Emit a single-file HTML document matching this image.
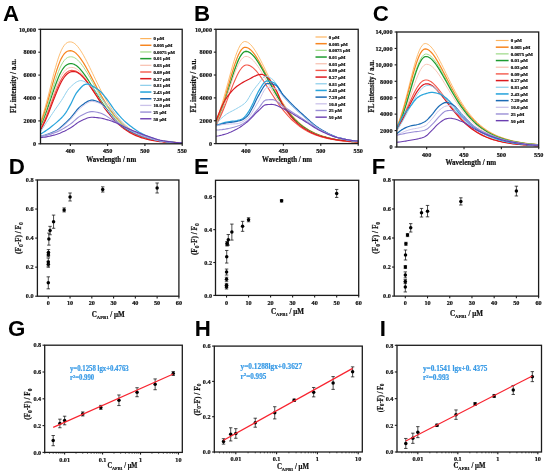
<!DOCTYPE html>
<html><head><meta charset="utf-8"><style>html,body{margin:0;padding:0;background:#fff;width:550px;height:475px;overflow:hidden}svg{display:block;will-change:transform}</style></head>
<body><svg width="550" height="475" viewBox="0 0 550 475"><text transform="translate(3 21.2) scale(1 1)" x="0" y="0" font-size="22.3" font-weight="bold" font-family='"Liberation Sans", sans-serif' fill="#000" stroke="none">A</text>
<text transform="translate(194 20.8) scale(1 1)" x="0" y="0" font-size="22.3" font-weight="bold" font-family='"Liberation Sans", sans-serif' fill="#000" stroke="none">B</text>
<text transform="translate(372.8 21.2) scale(1 1)" x="0" y="0" font-size="22.3" font-weight="bold" font-family='"Liberation Sans", sans-serif' fill="#000" stroke="none">C</text>
<text transform="translate(8.8 174.2) scale(1 1)" x="0" y="0" font-size="22.3" font-weight="bold" font-family='"Liberation Sans", sans-serif' fill="#000" stroke="none">D</text>
<text transform="translate(194 174.2) scale(1 1)" x="0" y="0" font-size="22.3" font-weight="bold" font-family='"Liberation Sans", sans-serif' fill="#000" stroke="none">E</text>
<text transform="translate(371.8 174) scale(1 1)" x="0" y="0" font-size="22.3" font-weight="bold" font-family='"Liberation Sans", sans-serif' fill="#000" stroke="none">F</text>
<text transform="translate(8 336) scale(1 1)" x="0" y="0" font-size="22.3" font-weight="bold" font-family='"Liberation Sans", sans-serif' fill="#000" stroke="none">G</text>
<text transform="translate(194.8 336) scale(1 1)" x="0" y="0" font-size="22.3" font-weight="bold" font-family='"Liberation Sans", sans-serif' fill="#000" stroke="none">H</text>
<text transform="translate(379.8 335.6) scale(1 1)" x="0" y="0" font-size="22.3" font-weight="bold" font-family='"Liberation Sans", sans-serif' fill="#000" stroke="none">I</text>
<clipPath id="cA"><rect x="40.5" y="29.3" width="141.7" height="114.5"/></clipPath>
<g clip-path="url(#cA)" fill="none">
<polyline points="40.5,122.06 41.99,117.8 43.48,113.09 44.97,107.99 46.47,102.54 47.96,96.83 49.45,90.93 50.94,84.97 52.43,79.04 53.92,73.26 55.42,67.75 56.91,62.61 58.4,57.94 59.89,53.81 61.38,50.28 62.87,47.39 64.37,45.15 65.86,43.54 67.35,42.52 68.84,42.01 70.33,41.89 71.82,42.1 73.31,42.71 74.81,43.7 76.3,45.03 77.79,46.68 79.28,48.61 80.77,50.8 82.26,53.21 83.76,55.8 85.25,58.55 86.74,61.42 88.23,64.4 89.72,67.44 91.21,70.53 92.71,73.64 94.2,76.76 95.69,79.86 97.18,82.93 98.67,85.95 100.16,88.91 101.65,91.8 103.15,94.61 104.64,97.34 106.13,99.97 107.62,102.5 109.11,104.94 110.6,107.28 112.1,109.51 113.59,111.63 115.08,113.66 116.57,115.58 118.06,117.41 119.55,119.13 121.05,120.76 122.54,122.3 124.03,123.75 125.52,125.11 127.01,126.4 128.5,127.6 129.99,128.73 131.49,129.78 132.98,130.77 134.47,131.69 135.96,132.56 137.45,133.36 138.94,134.11 140.44,134.81 141.93,135.46 143.42,136.07 144.91,136.63 146.4,137.16 147.89,137.64 149.39,138.1 150.88,138.52 152.37,138.91 153.86,139.27 155.35,139.6 156.84,139.91 158.33,140.2 159.83,140.47 161.32,140.72 162.81,140.94 164.3,141.16 165.79,141.35 167.28,141.53 168.78,141.7 170.27,141.86 171.76,142 173.25,142.13 174.74,142.26 176.23,142.37 177.73,142.48 179.22,142.57 180.71,142.66 182.2,142.75" stroke="#fdb35c" stroke-width="0.85" stroke-linejoin="round"/>
<polyline points="40.5,123.94 41.99,120.05 43.48,115.75 44.97,111.09 46.47,106.11 47.96,100.89 49.45,95.51 50.94,90.06 52.43,84.64 53.92,79.37 55.42,74.33 56.91,69.64 58.4,65.37 59.89,61.6 61.38,58.37 62.87,55.73 64.37,53.68 65.86,52.21 67.35,51.28 68.84,50.82 70.33,50.71 71.82,50.9 73.31,51.46 74.81,52.36 76.3,53.58 77.79,55.08 79.28,56.85 80.77,58.85 82.26,61.04 83.76,63.41 85.25,65.92 86.74,68.55 88.23,71.27 89.72,74.05 91.21,76.87 92.71,79.71 94.2,82.56 95.69,85.39 97.18,88.19 98.67,90.95 100.16,93.66 101.65,96.3 103.15,98.87 104.64,101.36 106.13,103.76 107.62,106.08 109.11,108.3 110.6,110.44 112.1,112.47 113.59,114.42 115.08,116.27 116.57,118.02 118.06,119.69 119.55,121.27 121.05,122.76 122.54,124.16 124.03,125.49 125.52,126.73 127.01,127.9 128.5,129 129.99,130.03 131.49,130.99 132.98,131.9 134.47,132.74 135.96,133.53 137.45,134.26 138.94,134.95 140.44,135.59 141.93,136.18 143.42,136.74 144.91,137.25 146.4,137.73 147.89,138.18 149.39,138.59 150.88,138.97 152.37,139.33 153.86,139.66 155.35,139.97 156.84,140.25 158.33,140.51 159.83,140.76 161.32,140.98 162.81,141.19 164.3,141.38 165.79,141.56 167.28,141.73 168.78,141.88 170.27,142.03 171.76,142.16 173.25,142.28 174.74,142.39 176.23,142.49 177.73,142.59 179.22,142.68 180.71,142.76 182.2,142.84" stroke="#f7851f" stroke-width="1.2" stroke-linejoin="round"/>
<polyline points="40.5,125.57 41.99,122.04 43.48,118.15 44.97,113.93 46.47,109.41 47.96,104.66 49.45,99.75 50.94,94.76 52.43,89.78 53.92,84.9 55.42,80.22 56.91,75.81 58.4,71.76 59.89,68.14 61.38,65 62.87,62.38 64.37,60.28 65.86,58.71 67.35,57.65 68.84,57.04 70.33,56.8 71.82,56.82 73.31,57.18 74.81,57.86 76.3,58.85 77.79,60.13 79.28,61.66 80.77,63.43 82.26,65.39 83.76,67.53 85.25,69.81 86.74,72.22 88.23,74.72 89.72,77.29 91.21,79.91 92.71,82.56 94.2,85.22 95.69,87.88 97.18,90.51 98.67,93.11 100.16,95.67 101.65,98.17 103.15,100.6 104.64,102.97 106.13,105.26 107.62,107.46 109.11,109.59 110.6,111.62 112.1,113.57 113.59,115.44 115.08,117.21 116.57,118.89 118.06,120.49 119.55,122.01 121.05,123.44 122.54,124.79 124.03,126.07 125.52,127.27 127.01,128.4 128.5,129.46 129.99,130.45 131.49,131.39 132.98,132.26 134.47,133.07 135.96,133.84 137.45,134.55 138.94,135.21 140.44,135.83 141.93,136.41 143.42,136.94 144.91,137.44 146.4,137.91 147.89,138.34 149.39,138.74 150.88,139.11 152.37,139.46 153.86,139.78 155.35,140.08 156.84,140.35 158.33,140.61 159.83,140.84 161.32,141.06 162.81,141.27 164.3,141.45 165.79,141.63 167.28,141.79 168.78,141.94 170.27,142.08 171.76,142.2 173.25,142.32 174.74,142.43 176.23,142.53 177.73,142.63 179.22,142.71 180.71,142.79 182.2,142.87" stroke="#a3dc8f" stroke-width="1.0" stroke-linejoin="round"/>
<polyline points="40.5,127.01 41.99,123.76 43.48,120.18 44.97,116.28 46.47,112.12 47.96,107.75 49.45,103.23 50.94,98.63 52.43,94.05 53.92,89.55 55.42,85.23 56.91,81.18 58.4,77.45 59.89,74.12 61.38,71.22 62.87,68.8 64.37,66.87 65.86,65.43 67.35,64.45 68.84,63.89 70.33,63.67 71.82,63.69 73.31,64.02 74.81,64.65 76.3,65.56 77.79,66.74 79.28,68.15 80.77,69.77 82.26,71.58 83.76,73.55 85.25,75.65 86.74,77.87 88.23,80.17 89.72,82.54 91.21,84.95 92.71,87.39 94.2,89.85 95.69,92.29 97.18,94.72 98.67,97.11 100.16,99.47 101.65,101.77 103.15,104.01 104.64,106.19 106.13,108.3 107.62,110.33 109.11,112.29 110.6,114.16 112.1,115.96 113.59,117.67 115.08,119.31 116.57,120.86 118.06,122.33 119.55,123.73 121.05,125.05 122.54,126.29 124.03,127.47 125.52,128.58 127.01,129.62 128.5,130.59 129.99,131.51 131.49,132.37 132.98,133.17 134.47,133.92 135.96,134.62 137.45,135.28 138.94,135.89 140.44,136.46 141.93,136.99 143.42,137.49 144.91,137.95 146.4,138.37 147.89,138.77 149.39,139.14 150.88,139.48 152.37,139.8 153.86,140.1 155.35,140.37 156.84,140.62 158.33,140.86 159.83,141.08 161.32,141.28 162.81,141.47 164.3,141.64 165.79,141.8 167.28,141.95 168.78,142.08 170.27,142.21 171.76,142.33 173.25,142.44 174.74,142.54 176.23,142.63 177.73,142.72 179.22,142.8 180.71,142.87 182.2,142.94" stroke="#1e9b30" stroke-width="1.2" stroke-linejoin="round"/>
<polyline points="40.5,128.08 41.99,125.08 43.48,121.77 44.97,118.17 46.47,114.32 47.96,110.26 49.45,106.06 50.94,101.77 52.43,97.48 53.92,93.25 55.42,89.16 56.91,85.29 58.4,81.7 59.89,78.45 61.38,75.6 62.87,73.17 64.37,71.19 65.86,69.65 67.35,68.55 68.84,67.85 70.33,67.51 71.82,67.43 73.31,67.58 74.81,68.04 76.3,68.78 77.79,69.78 79.28,71.02 80.77,72.46 82.26,74.1 83.76,75.91 85.25,77.85 86.74,79.91 88.23,82.06 89.72,84.29 91.21,86.57 92.71,88.89 94.2,91.22 95.69,93.56 97.18,95.88 98.67,98.18 100.16,100.44 101.65,102.66 103.15,104.83 104.64,106.93 106.13,108.98 107.62,110.95 109.11,112.85 110.6,114.68 112.1,116.43 113.59,118.1 115.08,119.69 116.57,121.21 118.06,122.65 119.55,124.02 121.05,125.31 122.54,126.54 124.03,127.69 125.52,128.77 127.01,129.8 128.5,130.76 129.99,131.66 131.49,132.5 132.98,133.29 134.47,134.03 135.96,134.73 137.45,135.37 138.94,135.98 140.44,136.54 141.93,137.06 143.42,137.55 144.91,138.01 146.4,138.43 147.89,138.82 149.39,139.19 150.88,139.53 152.37,139.84 153.86,140.13 155.35,140.4 156.84,140.65 158.33,140.89 159.83,141.1 161.32,141.3 162.81,141.49 164.3,141.66 165.79,141.82 167.28,141.97 168.78,142.1 170.27,142.23 171.76,142.34 173.25,142.45 174.74,142.55 176.23,142.64 177.73,142.73 179.22,142.81 180.71,142.88 182.2,142.95" stroke="#f8c4b4" stroke-width="1.0" stroke-linejoin="round"/>
<polyline points="40.5,128.95 41.99,126.15 43.48,123.06 44.97,119.71 46.47,116.11 47.96,112.32 49.45,108.38 50.94,104.35 52.43,100.29 53.92,96.28 55.42,92.38 56.91,88.67 58.4,85.19 59.89,82.02 61.38,79.2 62.87,76.76 64.37,74.72 65.86,73.1 67.35,71.89 68.84,71.07 70.33,70.6 71.82,70.42 73.31,70.44 74.81,70.74 76.3,71.32 77.79,72.15 79.28,73.23 80.77,74.52 82.26,76.01 83.76,77.67 85.25,79.47 86.74,81.4 88.23,83.42 89.72,85.53 91.21,87.7 92.71,89.91 94.2,92.15 95.69,94.39 97.18,96.63 98.67,98.86 100.16,101.05 101.65,103.2 103.15,105.31 104.64,107.37 106.13,109.36 107.62,111.29 109.11,113.15 110.6,114.94 112.1,116.66 113.59,118.31 115.08,119.88 116.57,121.37 118.06,122.79 119.55,124.14 121.05,125.42 122.54,126.63 124.03,127.77 125.52,128.85 127.01,129.86 128.5,130.81 129.99,131.71 131.49,132.54 132.98,133.33 134.47,134.07 135.96,134.75 137.45,135.4 138.94,136 140.44,136.56 141.93,137.08 143.42,137.57 144.91,138.02 146.4,138.44 147.89,138.83 149.39,139.19 150.88,139.53 152.37,139.85 153.86,140.14 155.35,140.41 156.84,140.66 158.33,140.89 159.83,141.11 161.32,141.31 162.81,141.49 164.3,141.66 165.79,141.82 167.28,141.97 168.78,142.1 170.27,142.23 171.76,142.35 173.25,142.45 174.74,142.55 176.23,142.65 177.73,142.73 179.22,142.81 180.71,142.88 182.2,142.95" stroke="#f4584a" stroke-width="1.1" stroke-linejoin="round"/>
<polyline points="40.5,130.04 41.99,127.44 43.48,124.56 44.97,121.41 46.47,118.03 47.96,114.44 49.45,110.69 50.94,106.83 52.43,102.91 53.92,99.01 55.42,95.18 56.91,91.48 58.4,87.99 59.89,84.75 61.38,81.82 62.87,79.24 64.37,77.02 65.86,75.2 67.35,73.77 68.84,72.73 70.33,72.04 71.82,71.67 73.31,71.55 74.81,71.64 76.3,72.03 77.79,72.7 79.28,73.65 80.77,74.84 82.26,76.24 83.76,77.84 85.25,79.61 86.74,81.53 88.23,83.56 89.72,85.69 91.21,87.89 92.71,90.14 94.2,92.43 95.69,94.73 97.18,97.03 98.67,99.31 100.16,101.56 101.65,103.78 103.15,105.95 104.64,108.06 106.13,110.1 107.62,112.08 109.11,113.99 110.6,115.82 112.1,117.57 113.59,119.24 115.08,120.83 116.57,122.34 118.06,123.78 119.55,125.13 121.05,126.42 122.54,127.62 124.03,128.76 125.52,129.83 127.01,130.83 128.5,131.77 129.99,132.64 131.49,133.46 132.98,134.23 134.47,134.94 135.96,135.61 137.45,136.22 138.94,136.8 140.44,137.33 141.93,137.83 143.42,138.28 144.91,138.71 146.4,139.1 147.89,139.47 149.39,139.81 150.88,140.12 152.37,140.41 153.86,140.67 155.35,140.92 156.84,141.14 158.33,141.35 159.83,141.55 161.32,141.72 162.81,141.89 164.3,142.04 165.79,142.18 167.28,142.31 168.78,142.42 170.27,142.53 171.76,142.63 173.25,142.72 174.74,142.81 176.23,142.89 177.73,142.96 179.22,143.03 180.71,143.09 182.2,143.14" stroke="#dc1a1f" stroke-width="1.2" stroke-linejoin="round"/>
<polyline points="40.5,131.66 41.99,129.35 43.48,127.05 44.97,124.76 46.47,122.49 47.96,120.23 49.45,117.99 50.94,115.76 52.43,113.54 53.92,111.33 55.42,109.14 56.91,106.99 58.4,104.86 59.89,102.73 61.38,100.56 62.87,98.24 64.37,95.69 65.86,93.1 67.35,90.68 68.84,88.65 70.33,87.14 71.82,85.75 73.31,84.42 74.81,83.2 76.3,82.15 77.79,81.33 79.28,80.79 80.77,80.6 82.26,80.77 83.76,81.27 85.25,82.02 86.74,82.97 88.23,84.07 89.72,85.26 91.21,86.47 92.71,87.73 94.2,89.34 95.69,91.21 97.18,93.18 98.67,95.1 100.16,96.88 101.65,98.64 103.15,100.4 104.64,102.15 106.13,103.9 107.62,105.64 109.11,107.38 110.6,109.11 112.1,110.82 113.59,112.53 115.08,114.23 116.57,115.98 118.06,117.79 119.55,119.61 121.05,121.4 122.54,123.1 124.03,124.66 125.52,126.03 127.01,127.18 128.5,128.27 129.99,129.3 131.49,130.29 132.98,131.23 134.47,132.12 135.96,132.96 137.45,133.75 138.94,134.49 140.44,135.17 141.93,135.81 143.42,136.4 144.91,136.93 146.4,137.43 147.89,137.91 149.39,138.38 150.88,138.82 152.37,139.24 153.86,139.64 155.35,140.01 156.84,140.35 158.33,140.67 159.83,140.95 161.32,141.2 162.81,141.42 164.3,141.6 165.79,141.78 167.28,141.95 168.78,142.12 170.27,142.28 171.76,142.43 173.25,142.57 174.74,142.69 176.23,142.8 177.73,142.88 179.22,142.94 180.71,142.98 182.2,143" stroke="#92d0ec" stroke-width="1.0" stroke-linejoin="round"/>
<polyline points="40.5,134.07 41.99,133.22 43.48,132.31 44.97,131.35 46.47,130.34 47.96,129.28 49.45,128.17 50.94,127.03 52.43,125.85 53.92,124.63 55.42,123.39 56.91,122.12 58.4,120.81 59.89,119.43 61.38,117.96 62.87,116.36 64.37,114.62 65.86,112.66 67.35,110.25 68.84,107.61 70.33,104.92 71.82,101.91 73.31,98.73 74.81,95.71 76.3,93.15 77.79,91.25 79.28,89.47 80.77,87.78 82.26,86.28 83.76,85.08 85.25,84.3 86.74,84.03 88.23,84.18 89.72,84.58 91.21,85.2 92.71,85.99 94.2,86.91 95.69,87.93 97.18,89.01 98.67,90.12 100.16,91.28 101.65,92.76 103.15,94.48 104.64,96.34 106.13,98.24 107.62,100.16 109.11,102.26 110.6,104.45 112.1,106.65 113.59,108.76 115.08,110.69 116.57,112.49 118.06,114.24 119.55,115.95 121.05,117.58 122.54,119.14 124.03,120.61 125.52,121.98 127.01,123.24 128.5,124.46 129.99,125.66 131.49,126.82 132.98,127.94 134.47,129.02 135.96,130.06 137.45,131.05 138.94,131.98 140.44,132.85 141.93,133.67 143.42,134.42 144.91,135.1 146.4,135.74 147.89,136.36 149.39,136.96 150.88,137.53 152.37,138.09 153.86,138.61 155.35,139.1 156.84,139.55 158.33,139.96 159.83,140.33 161.32,140.66 162.81,140.93 164.3,141.16 165.79,141.39 167.28,141.6 168.78,141.81 170.27,142.01 171.76,142.19 173.25,142.36 174.74,142.51 176.23,142.64 177.73,142.74 179.22,142.82 180.71,142.87 182.2,142.88" stroke="#2aa5dc" stroke-width="1.25" stroke-linejoin="round"/>
<polyline points="40.5,135.78 41.99,135.65 43.48,135.4 44.97,135.06 46.47,134.64 47.96,134.15 49.45,133.6 50.94,132.99 52.43,132.35 53.92,131.68 55.42,130.99 56.91,130.16 58.4,129.17 59.89,128.03 61.38,126.78 62.87,125.44 64.37,124.03 65.86,122.57 67.35,121.09 68.84,119.61 70.33,118.12 71.82,116.43 73.31,114.58 74.81,112.66 76.3,110.76 77.79,108.98 79.28,107.4 80.77,106.13 82.26,105.02 83.76,103.91 85.25,102.85 86.74,101.89 88.23,101.1 89.72,100.52 91.21,100.21 92.71,100.21 94.2,100.46 95.69,100.89 97.18,101.45 98.67,102.09 100.16,102.83 101.65,103.96 103.15,105.38 104.64,106.97 106.13,108.62 107.62,110.32 109.11,112.3 110.6,114.43 112.1,116.55 113.59,118.51 115.08,120.17 116.57,121.61 118.06,122.96 119.55,124.23 121.05,125.42 122.54,126.52 124.03,127.55 125.52,128.48 127.01,129.33 128.5,130.15 129.99,130.92 131.49,131.66 132.98,132.37 134.47,133.05 135.96,133.69 137.45,134.3 138.94,134.88 140.44,135.44 141.93,135.96 143.42,136.46 144.91,136.93 146.4,137.39 147.89,137.83 149.39,138.27 150.88,138.69 152.37,139.1 153.86,139.49 155.35,139.86 156.84,140.2 158.33,140.52 159.83,140.81 161.32,141.07 162.81,141.3 164.3,141.49 165.79,141.68 167.28,141.86 168.78,142.03 170.27,142.2 171.76,142.36 173.25,142.51 174.74,142.64 176.23,142.75 177.73,142.85 179.22,142.92 180.71,142.97 182.2,143" stroke="#1c6bb5" stroke-width="1.2" stroke-linejoin="round"/>
<polyline points="40.5,136.01 41.99,135.88 43.48,135.65 44.97,135.34 46.47,134.95 47.96,134.49 49.45,133.98 50.94,133.43 52.43,132.83 53.92,132.22 55.42,131.58 56.91,130.82 58.4,129.92 59.89,128.9 61.38,127.77 62.87,126.55 64.37,125.27 65.86,123.93 67.35,122.55 68.84,121.16 70.33,119.75 71.82,118.11 73.31,116.28 74.81,114.37 76.3,112.46 77.79,110.65 79.28,109.04 80.77,107.73 82.26,106.58 83.76,105.41 85.25,104.28 86.74,103.27 88.23,102.42 89.72,101.8 91.21,101.47 92.71,101.46 94.2,101.65 95.69,101.98 97.18,102.42 98.67,102.94 100.16,103.57 101.65,104.6 103.15,105.93 104.64,107.44 106.13,108.99 107.62,110.58 109.11,112.43 110.6,114.41 112.1,116.4 113.59,118.25 115.08,119.83 116.57,121.2 118.06,122.5 119.55,123.73 121.05,124.88 122.54,125.96 124.03,126.97 125.52,127.9 127.01,128.77 128.5,129.6 129.99,130.4 131.49,131.16 132.98,131.9 134.47,132.61 135.96,133.28 137.45,133.93 138.94,134.54 140.44,135.13 141.93,135.68 143.42,136.21 144.91,136.7 146.4,137.18 147.89,137.65 149.39,138.11 150.88,138.56 152.37,138.99 153.86,139.4 155.35,139.79 156.84,140.15 158.33,140.49 159.83,140.79 161.32,141.06 162.81,141.29 164.3,141.49 165.79,141.68 167.28,141.87 168.78,142.05 170.27,142.22 171.76,142.38 173.25,142.52 174.74,142.66 176.23,142.77 177.73,142.86 179.22,142.93 180.71,142.98 182.2,143" stroke="#cbc3ea" stroke-width="1.0" stroke-linejoin="round"/>
<polyline points="40.5,136.7 41.99,136.46 43.48,136.17 44.97,135.84 46.47,135.46 47.96,135.04 49.45,134.59 50.94,134.11 52.43,133.6 53.92,133.07 55.42,132.53 56.91,131.92 58.4,131.24 59.89,130.5 61.38,129.71 62.87,128.86 64.37,127.98 65.86,127.06 67.35,126.12 68.84,125.15 70.33,124.15 71.82,123 73.31,121.71 74.81,120.35 76.3,119.01 77.79,117.75 79.28,116.64 80.77,115.75 82.26,114.98 83.76,114.21 85.25,113.47 86.74,112.81 88.23,112.26 89.72,111.86 91.21,111.65 92.71,111.65 94.2,111.78 95.69,112.01 97.18,112.3 98.67,112.63 100.16,113.01 101.65,113.54 103.15,114.21 104.64,115.01 106.13,115.9 107.62,116.85 109.11,117.84 110.6,118.84 112.1,119.82 113.59,120.76 115.08,121.63 116.57,122.46 118.06,123.31 119.55,124.16 121.05,125 122.54,125.83 124.03,126.63 125.52,127.4 127.01,128.13 128.5,128.85 129.99,129.56 131.49,130.26 132.98,130.95 134.47,131.62 135.96,132.28 137.45,132.92 138.94,133.54 140.44,134.14 141.93,134.71 143.42,135.26 144.91,135.78 146.4,136.3 147.89,136.81 149.39,137.31 150.88,137.81 152.37,138.29 153.86,138.76 155.35,139.2 156.84,139.62 158.33,140.01 159.83,140.36 161.32,140.67 162.81,140.94 164.3,141.16 165.79,141.38 167.28,141.59 168.78,141.79 170.27,141.98 171.76,142.17 173.25,142.33 174.74,142.48 176.23,142.61 177.73,142.72 179.22,142.8 180.71,142.86 182.2,142.88" stroke="#9a8fd6" stroke-width="1.1" stroke-linejoin="round"/>
<polyline points="40.5,137.62 41.99,137.49 43.48,137.32 44.97,137.11 46.47,136.85 47.96,136.56 49.45,136.24 50.94,135.89 52.43,135.53 53.92,135.14 55.42,134.75 56.91,134.29 58.4,133.77 59.89,133.19 61.38,132.55 62.87,131.87 64.37,131.15 65.86,130.39 67.35,129.62 68.84,128.82 70.33,128.01 71.82,127.05 73.31,125.97 74.81,124.83 76.3,123.7 77.79,122.62 79.28,121.67 80.77,120.9 82.26,120.22 83.76,119.54 85.25,118.89 86.74,118.3 88.23,117.81 89.72,117.45 91.21,117.26 92.71,117.25 94.2,117.33 95.69,117.47 97.18,117.65 98.67,117.84 100.16,118.05 101.65,118.32 103.15,118.63 104.64,119 106.13,119.41 107.62,119.85 109.11,120.33 110.6,120.83 112.1,121.35 113.59,121.88 115.08,122.42 116.57,123.01 118.06,123.68 119.55,124.42 121.05,125.18 122.54,125.96 124.03,126.72 125.52,127.43 127.01,128.1 128.5,128.74 129.99,129.39 131.49,130.02 132.98,130.64 134.47,131.26 135.96,131.86 137.45,132.46 138.94,133.04 140.44,133.6 141.93,134.16 143.42,134.69 144.91,135.21 146.4,135.73 147.89,136.26 149.39,136.79 150.88,137.31 152.37,137.83 153.86,138.33 155.35,138.82 156.84,139.27 158.33,139.69 159.83,140.07 161.32,140.41 162.81,140.7 164.3,140.94 165.79,141.17 167.28,141.39 168.78,141.61 170.27,141.81 171.76,142.01 173.25,142.19 174.74,142.35 176.23,142.48 177.73,142.6 179.22,142.69 180.71,142.74 182.2,142.77" stroke="#6b3fb0" stroke-width="1.1" stroke-linejoin="round"/>
</g>
<rect x="40.5" y="29.3" width="141.7" height="114.5" fill="none" stroke="#1b1b1b" stroke-width="1.3"/>
<line x1="38.3" y1="143.8" x2="40.5" y2="143.8" stroke="#1b1b1b" stroke-width="1.1"/>
<text x="36" y="146.03" font-size="6.63" text-anchor="end" font-weight="bold" font-family='"Liberation Serif", serif' fill="#111" stroke="#111" stroke-width="0.22" textLength="3.1" lengthAdjust="spacingAndGlyphs">0</text>
<line x1="38.3" y1="120.9" x2="40.5" y2="120.9" stroke="#1b1b1b" stroke-width="1.1"/>
<text x="36" y="123.13" font-size="6.63" text-anchor="end" font-weight="bold" font-family='"Liberation Serif", serif' fill="#111" stroke="#111" stroke-width="0.22" textLength="12.4" lengthAdjust="spacingAndGlyphs">2000</text>
<line x1="38.3" y1="98" x2="40.5" y2="98" stroke="#1b1b1b" stroke-width="1.1"/>
<text x="36" y="100.23" font-size="6.63" text-anchor="end" font-weight="bold" font-family='"Liberation Serif", serif' fill="#111" stroke="#111" stroke-width="0.22" textLength="12.4" lengthAdjust="spacingAndGlyphs">4000</text>
<line x1="38.3" y1="75.1" x2="40.5" y2="75.1" stroke="#1b1b1b" stroke-width="1.1"/>
<text x="36" y="77.33" font-size="6.63" text-anchor="end" font-weight="bold" font-family='"Liberation Serif", serif' fill="#111" stroke="#111" stroke-width="0.22" textLength="12.4" lengthAdjust="spacingAndGlyphs">6000</text>
<line x1="38.3" y1="52.2" x2="40.5" y2="52.2" stroke="#1b1b1b" stroke-width="1.1"/>
<text x="36" y="54.43" font-size="6.63" text-anchor="end" font-weight="bold" font-family='"Liberation Serif", serif' fill="#111" stroke="#111" stroke-width="0.22" textLength="12.4" lengthAdjust="spacingAndGlyphs">8000</text>
<line x1="38.3" y1="29.3" x2="40.5" y2="29.3" stroke="#1b1b1b" stroke-width="1.1"/>
<text x="36" y="31.53" font-size="6.63" text-anchor="end" font-weight="bold" font-family='"Liberation Serif", serif' fill="#111" stroke="#111" stroke-width="0.22" textLength="17.05" lengthAdjust="spacingAndGlyphs">10,000</text>
<line x1="70.33" y1="143.8" x2="70.33" y2="146" stroke="#1b1b1b" stroke-width="1.1"/>
<text x="70.33" y="153.43" font-size="6.63" text-anchor="middle" font-weight="bold" font-family='"Liberation Serif", serif' fill="#111" stroke="#111" stroke-width="0.22" textLength="9.3" lengthAdjust="spacingAndGlyphs">400</text>
<line x1="107.62" y1="143.8" x2="107.62" y2="146" stroke="#1b1b1b" stroke-width="1.1"/>
<text x="107.62" y="153.43" font-size="6.63" text-anchor="middle" font-weight="bold" font-family='"Liberation Serif", serif' fill="#111" stroke="#111" stroke-width="0.22" textLength="9.3" lengthAdjust="spacingAndGlyphs">450</text>
<line x1="144.91" y1="143.8" x2="144.91" y2="146" stroke="#1b1b1b" stroke-width="1.1"/>
<text x="144.91" y="153.43" font-size="6.63" text-anchor="middle" font-weight="bold" font-family='"Liberation Serif", serif' fill="#111" stroke="#111" stroke-width="0.22" textLength="9.3" lengthAdjust="spacingAndGlyphs">500</text>
<line x1="182.2" y1="143.8" x2="182.2" y2="146" stroke="#1b1b1b" stroke-width="1.1"/>
<text x="182.2" y="153.43" font-size="6.63" text-anchor="middle" font-weight="bold" font-family='"Liberation Serif", serif' fill="#111" stroke="#111" stroke-width="0.22" textLength="9.3" lengthAdjust="spacingAndGlyphs">550</text>
<text x="13.8" y="88.5" font-size="7.6" text-anchor="middle" font-weight="bold" font-family='"Liberation Serif", serif' fill="#111" stroke="#111" stroke-width="0.22" textLength="54" lengthAdjust="spacingAndGlyphs" transform="rotate(-90 13.8 85.9)">FL intensity / a.u.</text>
<text x="111.2" y="161.7" font-size="7.35" text-anchor="middle" font-weight="bold" font-family='"Liberation Serif", serif' fill="#111" stroke="#111" stroke-width="0.22" textLength="50" lengthAdjust="spacingAndGlyphs">Wavelength / nm</text>
<line x1="140.2" y1="38.6" x2="151.4" y2="38.6" stroke="#fdb35c" stroke-width="1.15"/>
<text x="153.5" y="40.45" font-size="5" font-weight="bold" font-family='"Liberation Serif", serif' fill="#111" stroke="#111" stroke-width="0.22" textLength="10.74" lengthAdjust="spacingAndGlyphs">0 μM</text>
<line x1="140.2" y1="45.28" x2="151.4" y2="45.28" stroke="#f7851f" stroke-width="1.5"/>
<text x="153.5" y="47.13" font-size="5" font-weight="bold" font-family='"Liberation Serif", serif' fill="#111" stroke="#111" stroke-width="0.22" textLength="19.05" lengthAdjust="spacingAndGlyphs">0.005 μM</text>
<line x1="140.2" y1="51.96" x2="151.4" y2="51.96" stroke="#a3dc8f" stroke-width="1.3"/>
<text x="153.5" y="53.81" font-size="5" font-weight="bold" font-family='"Liberation Serif", serif' fill="#111" stroke="#111" stroke-width="0.22" textLength="21.43" lengthAdjust="spacingAndGlyphs">0.0075 μM</text>
<line x1="140.2" y1="58.64" x2="151.4" y2="58.64" stroke="#1e9b30" stroke-width="1.5"/>
<text x="153.5" y="60.49" font-size="5" font-weight="bold" font-family='"Liberation Serif", serif' fill="#111" stroke="#111" stroke-width="0.22" textLength="16.68" lengthAdjust="spacingAndGlyphs">0.01 μM</text>
<line x1="140.2" y1="65.32" x2="151.4" y2="65.32" stroke="#f8c4b4" stroke-width="1.3"/>
<text x="153.5" y="67.17" font-size="5" font-weight="bold" font-family='"Liberation Serif", serif' fill="#111" stroke="#111" stroke-width="0.22" textLength="16.68" lengthAdjust="spacingAndGlyphs">0.03 μM</text>
<line x1="140.2" y1="72" x2="151.4" y2="72" stroke="#f4584a" stroke-width="1.4"/>
<text x="153.5" y="73.85" font-size="5" font-weight="bold" font-family='"Liberation Serif", serif' fill="#111" stroke="#111" stroke-width="0.22" textLength="16.68" lengthAdjust="spacingAndGlyphs">0.09 μM</text>
<line x1="140.2" y1="78.68" x2="151.4" y2="78.68" stroke="#dc1a1f" stroke-width="1.5"/>
<text x="153.5" y="80.53" font-size="5" font-weight="bold" font-family='"Liberation Serif", serif' fill="#111" stroke="#111" stroke-width="0.22" textLength="16.68" lengthAdjust="spacingAndGlyphs">0.27 μM</text>
<line x1="140.2" y1="85.36" x2="151.4" y2="85.36" stroke="#92d0ec" stroke-width="1.3"/>
<text x="153.5" y="87.21" font-size="5" font-weight="bold" font-family='"Liberation Serif", serif' fill="#111" stroke="#111" stroke-width="0.22" textLength="16.68" lengthAdjust="spacingAndGlyphs">0.81 μM</text>
<line x1="140.2" y1="92.04" x2="151.4" y2="92.04" stroke="#2aa5dc" stroke-width="1.55"/>
<text x="153.5" y="93.89" font-size="5" font-weight="bold" font-family='"Liberation Serif", serif' fill="#111" stroke="#111" stroke-width="0.22" textLength="16.68" lengthAdjust="spacingAndGlyphs">2.43 μM</text>
<line x1="140.2" y1="98.72" x2="151.4" y2="98.72" stroke="#1c6bb5" stroke-width="1.5"/>
<text x="153.5" y="100.57" font-size="5" font-weight="bold" font-family='"Liberation Serif", serif' fill="#111" stroke="#111" stroke-width="0.22" textLength="16.68" lengthAdjust="spacingAndGlyphs">7.29 μM</text>
<line x1="140.2" y1="105.4" x2="151.4" y2="105.4" stroke="#cbc3ea" stroke-width="1.3"/>
<text x="153.5" y="107.25" font-size="5" font-weight="bold" font-family='"Liberation Serif", serif' fill="#111" stroke="#111" stroke-width="0.22" textLength="16.68" lengthAdjust="spacingAndGlyphs">10.0 μM</text>
<line x1="140.2" y1="112.08" x2="151.4" y2="112.08" stroke="#9a8fd6" stroke-width="1.4"/>
<text x="153.5" y="113.93" font-size="5" font-weight="bold" font-family='"Liberation Serif", serif' fill="#111" stroke="#111" stroke-width="0.22" textLength="13.11" lengthAdjust="spacingAndGlyphs">25 μM</text>
<line x1="140.2" y1="118.76" x2="151.4" y2="118.76" stroke="#6b3fb0" stroke-width="1.4"/>
<text x="153.5" y="120.61" font-size="5" font-weight="bold" font-family='"Liberation Serif", serif' fill="#111" stroke="#111" stroke-width="0.22" textLength="13.11" lengthAdjust="spacingAndGlyphs">50 μM</text>
<clipPath id="cB"><rect x="216" y="29.3" width="142.2" height="114.3"/></clipPath>
<g clip-path="url(#cB)" fill="none">
<polyline points="216,120.91 217.5,117.18 218.99,113.09 220.49,108.64 221.99,103.88 223.48,98.83 224.98,93.54 226.48,88.08 227.97,82.53 229.47,76.96 230.97,71.47 232.47,66.16 233.96,61.14 235.46,56.49 236.96,52.33 238.45,48.74 239.95,45.81 241.45,43.61 242.94,42.18 244.44,41.56 245.94,41.66 247.43,42.2 248.93,43.14 250.43,44.45 251.92,46.09 253.42,48.02 254.92,50.21 256.41,52.61 257.91,55.21 259.41,57.95 260.91,60.81 262.4,63.76 263.9,66.78 265.4,69.83 266.89,72.9 268.39,75.96 269.89,79 271.38,82 272.88,84.95 274.38,87.83 275.87,90.65 277.37,93.38 278.87,96.02 280.36,98.58 281.86,101.04 283.36,103.4 284.85,105.66 286.35,107.83 287.85,109.9 289.35,111.87 290.84,113.74 292.34,115.52 293.84,117.21 295.33,118.8 296.83,120.32 298.33,121.74 299.82,123.09 301.32,124.37 302.82,125.56 304.31,126.69 305.81,127.75 307.31,128.75 308.8,129.69 310.3,130.57 311.8,131.4 313.29,132.17 314.79,132.9 316.29,133.58 317.79,134.22 319.28,134.82 320.78,135.38 322.28,135.9 323.77,136.39 325.27,136.85 326.77,137.28 328.26,137.68 329.76,138.05 331.26,138.41 332.75,138.73 334.25,139.04 335.75,139.33 337.24,139.6 338.74,139.85 340.24,140.08 341.73,140.3 343.23,140.51 344.73,140.7 346.23,140.88 347.72,141.05 349.22,141.2 350.72,141.35 352.21,141.49 353.71,141.62 355.21,141.74 356.7,141.85 358.2,141.96" stroke="#fdb35c" stroke-width="0.85" stroke-linejoin="round"/>
<polyline points="216,123.01 217.5,119.57 218.99,115.79 220.49,111.68 221.99,107.25 223.48,102.55 224.98,97.61 226.48,92.49 227.97,87.26 229.47,82 230.97,76.79 232.47,71.73 233.96,66.91 235.46,62.43 236.96,58.38 238.45,54.85 239.95,51.92 241.45,49.66 242.94,48.12 244.44,47.34 245.94,47.3 247.43,47.71 248.93,48.51 250.43,49.66 251.92,51.13 253.42,52.89 254.92,54.9 256.41,57.12 257.91,59.53 259.41,62.09 260.91,64.76 262.4,67.53 263.9,70.36 265.4,73.24 266.89,76.13 268.39,79.02 269.89,81.9 271.38,84.74 272.88,87.54 274.38,90.28 275.87,92.95 277.37,95.55 278.87,98.07 280.36,100.5 281.86,102.85 283.36,105.1 284.85,107.26 286.35,109.33 287.85,111.31 289.35,113.19 290.84,114.98 292.34,116.68 293.84,118.29 295.33,119.82 296.83,121.27 298.33,122.64 299.82,123.93 301.32,125.15 302.82,126.3 304.31,127.38 305.81,128.4 307.31,129.35 308.8,130.25 310.3,131.1 311.8,131.89 313.29,132.63 314.79,133.33 316.29,133.98 317.79,134.6 319.28,135.17 320.78,135.71 322.28,136.21 323.77,136.68 325.27,137.12 326.77,137.53 328.26,137.92 329.76,138.28 331.26,138.62 332.75,138.93 334.25,139.23 335.75,139.5 337.24,139.76 338.74,140 340.24,140.23 341.73,140.44 343.23,140.63 344.73,140.82 346.23,140.99 347.72,141.15 349.22,141.3 350.72,141.44 352.21,141.58 353.71,141.7 355.21,141.81 356.7,141.92 358.2,142.02" stroke="#f7851f" stroke-width="1.2" stroke-linejoin="round"/>
<polyline points="216,124.53 217.5,121.36 218.99,117.86 220.49,114.04 221.99,109.93 223.48,105.54 224.98,100.92 226.48,96.11 227.97,91.18 229.47,86.2 230.97,81.23 232.47,76.37 233.96,71.7 235.46,67.31 236.96,63.29 238.45,59.72 239.95,56.69 241.45,54.25 242.94,52.47 244.44,51.38 245.94,51.02 247.43,51.22 248.93,51.8 250.43,52.75 251.92,54.01 253.42,55.57 254.92,57.38 256.41,59.42 257.91,61.64 259.41,64.03 260.91,66.55 262.4,69.17 263.9,71.86 265.4,74.61 266.89,77.38 268.39,80.16 269.89,82.94 271.38,85.69 272.88,88.4 274.38,91.06 275.87,93.66 277.37,96.19 278.87,98.65 280.36,101.03 281.86,103.33 283.36,105.54 284.85,107.66 286.35,109.69 287.85,111.63 289.35,113.48 290.84,115.25 292.34,116.93 293.84,118.52 295.33,120.03 296.83,121.46 298.33,122.81 299.82,124.09 301.32,125.29 302.82,126.43 304.31,127.5 305.81,128.51 307.31,129.46 308.8,130.35 310.3,131.19 311.8,131.97 313.29,132.71 314.79,133.4 316.29,134.05 317.79,134.66 319.28,135.23 320.78,135.76 322.28,136.26 323.77,136.73 325.27,137.17 326.77,137.58 328.26,137.96 329.76,138.32 331.26,138.65 332.75,138.97 334.25,139.26 335.75,139.53 337.24,139.79 338.74,140.03 340.24,140.25 341.73,140.46 343.23,140.66 344.73,140.84 346.23,141.01 347.72,141.17 349.22,141.32 350.72,141.46 352.21,141.59 353.71,141.71 355.21,141.83 356.7,141.94 358.2,142.04" stroke="#a3dc8f" stroke-width="1.0" stroke-linejoin="round"/>
<polyline points="216,124.61 217.5,121.44 218.99,117.95 220.49,114.15 221.99,110.05 223.48,105.68 224.98,101.08 226.48,96.29 227.97,91.38 229.47,86.41 230.97,81.46 232.47,76.62 233.96,71.97 235.46,67.59 236.96,63.59 238.45,60.03 239.95,57.01 241.45,54.58 242.94,52.81 244.44,51.72 245.94,51.36 247.43,51.56 248.93,52.14 250.43,53.08 251.92,54.34 253.42,55.89 254.92,57.7 256.41,59.73 257.91,61.95 259.41,64.33 260.91,66.84 262.4,69.44 263.9,72.13 265.4,74.86 266.89,77.63 268.39,80.4 269.89,83.16 271.38,85.9 272.88,88.6 274.38,91.25 275.87,93.84 277.37,96.37 278.87,98.82 280.36,101.19 281.86,103.48 283.36,105.68 284.85,107.79 286.35,109.82 287.85,111.75 289.35,113.6 290.84,115.35 292.34,117.02 293.84,118.61 295.33,120.12 296.83,121.54 298.33,122.89 299.82,124.16 301.32,125.36 302.82,126.49 304.31,127.56 305.81,128.57 307.31,129.51 308.8,130.4 310.3,131.23 311.8,132.02 313.29,132.75 314.79,133.44 316.29,134.09 317.79,134.69 319.28,135.26 320.78,135.79 322.28,136.29 323.77,136.75 325.27,137.19 326.77,137.6 328.26,137.98 329.76,138.34 331.26,138.67 332.75,138.98 334.25,139.27 335.75,139.55 337.24,139.8 338.74,140.04 340.24,140.26 341.73,140.47 343.23,140.67 344.73,140.85 346.23,141.02 347.72,141.18 349.22,141.33 350.72,141.47 352.21,141.6 353.71,141.72 355.21,141.84 356.7,141.94 358.2,142.04" stroke="#1e9b30" stroke-width="1.2" stroke-linejoin="round"/>
<polyline points="216,124.38 217.5,121.32 218.99,117.98 220.49,114.36 221.99,110.47 223.48,106.35 224.98,102.03 226.48,97.57 227.97,93 229.47,88.41 230.97,83.84 232.47,79.39 233.96,75.13 235.46,71.14 236.96,67.49 238.45,64.25 239.95,61.51 241.45,59.31 242.94,57.7 244.44,56.72 245.94,56.39 247.43,56.58 248.93,57.13 250.43,58.02 251.92,59.21 253.42,60.67 254.92,62.38 256.41,64.3 257.91,66.4 259.41,68.65 260.91,71.02 262.4,73.49 263.9,76.03 265.4,78.61 266.89,81.22 268.39,83.84 269.89,86.46 271.38,89.05 272.88,91.6 274.38,94.11 275.87,96.56 277.37,98.94 278.87,101.26 280.36,103.5 281.86,105.67 283.36,107.75 284.85,109.74 286.35,111.66 287.85,113.49 289.35,115.23 290.84,116.89 292.34,118.47 293.84,119.97 295.33,121.4 296.83,122.74 298.33,124.02 299.82,125.22 301.32,126.36 302.82,127.43 304.31,128.44 305.81,129.39 307.31,130.28 308.8,131.12 310.3,131.91 311.8,132.65 313.29,133.34 314.79,133.99 316.29,134.61 317.79,135.18 319.28,135.71 320.78,136.22 322.28,136.69 323.77,137.13 325.27,137.54 326.77,137.93 328.26,138.29 329.76,138.62 331.26,138.94 332.75,139.23 334.25,139.51 335.75,139.77 337.24,140.01 338.74,140.24 340.24,140.45 341.73,140.64 343.23,140.83 344.73,141 346.23,141.16 347.72,141.31 349.22,141.45 350.72,141.59 352.21,141.71 353.71,141.82 355.21,141.93 356.7,142.03 358.2,142.13" stroke="#f8c4b4" stroke-width="1.0" stroke-linejoin="round"/>
<polyline points="216,125.32 217.5,122.6 218.99,119.64 220.49,116.45 221.99,113.04 223.48,109.45 224.98,105.7 226.48,101.84 227.97,97.89 229.47,93.92 230.97,89.97 232.47,86.12 233.96,82.41 235.46,78.91 236.96,75.69 238.45,72.8 239.95,70.3 241.45,68.24 242.94,66.65 244.44,65.57 245.94,65.03 247.43,65 248.93,65.34 250.43,65.99 251.92,66.93 253.42,68.14 254.92,69.57 256.41,71.21 257.91,73.02 259.41,74.99 260.91,77.07 262.4,79.26 263.9,81.52 265.4,83.83 266.89,86.18 268.39,88.54 269.89,90.9 271.38,93.25 272.88,95.57 274.38,97.85 275.87,100.08 277.37,102.27 278.87,104.39 280.36,106.44 281.86,108.43 283.36,110.34 284.85,112.18 286.35,113.94 287.85,115.63 289.35,117.24 290.84,118.78 292.34,120.24 293.84,121.63 295.33,122.95 296.83,124.19 298.33,125.38 299.82,126.49 301.32,127.55 302.82,128.54 304.31,129.48 305.81,130.36 307.31,131.19 308.8,131.97 310.3,132.71 311.8,133.4 313.29,134.04 314.79,134.65 316.29,135.22 317.79,135.75 319.28,136.25 320.78,136.72 322.28,137.16 323.77,137.57 325.27,137.95 326.77,138.31 328.26,138.65 329.76,138.96 331.26,139.26 332.75,139.53 334.25,139.79 335.75,140.03 337.24,140.26 338.74,140.47 340.24,140.66 341.73,140.85 343.23,141.02 344.73,141.18 346.23,141.33 347.72,141.47 349.22,141.6 350.72,141.72 352.21,141.84 353.71,141.95 355.21,142.05 356.7,142.14 358.2,142.23" stroke="#f4584a" stroke-width="1.1" stroke-linejoin="round"/>
<polyline points="216,121.05 217.5,116.99 218.99,113.13 220.49,109.49 221.99,106.11 223.48,103.03 224.98,100.27 226.48,97.88 227.97,95.77 229.47,93.82 230.97,92.03 232.47,90.4 233.96,88.91 235.46,87.56 236.96,86.34 238.45,85.22 239.95,84.2 241.45,83.26 242.94,82.39 244.44,81.57 245.94,80.8 247.43,80.05 248.93,79.28 250.43,78.46 251.92,77.64 253.42,76.83 254.92,76.08 256.41,75.43 257.91,74.89 259.41,74.52 260.91,74.34 262.4,74.46 263.9,75.02 265.4,75.87 266.89,76.85 268.39,78.12 269.89,79.87 271.38,82 272.88,84.39 274.38,86.94 275.87,89.54 277.37,92.52 278.87,96.03 280.36,99.69 281.86,103.1 283.36,105.88 284.85,108.17 286.35,110.35 287.85,112.44 289.35,114.42 290.84,116.3 292.34,118.08 293.84,119.75 295.33,121.32 296.83,122.78 298.33,124.13 299.82,125.37 301.32,126.5 302.82,127.53 304.31,128.51 305.81,129.43 307.31,130.31 308.8,131.15 310.3,131.94 311.8,132.68 313.29,133.38 314.79,134.03 316.29,134.63 317.79,135.19 319.28,135.7 320.78,136.17 322.28,136.61 323.77,137.03 325.27,137.43 326.77,137.81 328.26,138.17 329.76,138.51 331.26,138.83 332.75,139.13 334.25,139.41 335.75,139.66 337.24,139.88 338.74,140.08 340.24,140.26 341.73,140.43 343.23,140.6 344.73,140.76 346.23,140.91 347.72,141.06 349.22,141.19 350.72,141.31 352.21,141.41 353.71,141.5 355.21,141.58 356.7,141.63 358.2,141.66" stroke="#dc1a1f" stroke-width="1.2" stroke-linejoin="round"/>
<polyline points="216,123.71 217.5,122.12 218.99,120.6 220.49,119.15 221.99,117.78 223.48,116.5 224.98,115.31 226.48,114.22 227.97,113.26 229.47,112.39 230.97,111.6 232.47,110.83 233.96,110.07 235.46,109.27 236.96,108.4 238.45,107.5 239.95,106.63 241.45,105.71 242.94,104.69 244.44,103.51 245.94,102.1 247.43,100.08 248.93,97.6 250.43,94.94 251.92,92.38 253.42,90.19 254.92,88.16 256.41,86.24 257.91,84.43 259.41,82.54 260.91,80.46 262.4,78.49 263.9,76.97 265.4,76.2 266.89,76.29 268.39,76.8 269.89,77.58 271.38,78.53 272.88,79.61 274.38,81.31 275.87,83.54 277.37,86.11 278.87,88.85 280.36,91.56 281.86,94.06 283.36,96.17 284.85,97.98 286.35,99.71 287.85,101.38 289.35,102.99 290.84,104.54 292.34,106.04 293.84,107.5 295.33,108.92 296.83,110.31 298.33,111.68 299.82,113.02 301.32,114.36 302.82,115.69 304.31,117.03 305.81,118.36 307.31,119.68 308.8,120.99 310.3,122.27 311.8,123.52 313.29,124.72 314.79,125.88 316.29,126.99 317.79,128.03 319.28,128.99 320.78,129.88 322.28,130.72 323.77,131.55 325.27,132.35 326.77,133.12 328.26,133.86 329.76,134.57 331.26,135.25 332.75,135.88 334.25,136.47 335.75,137.01 337.24,137.49 338.74,137.92 340.24,138.3 341.73,138.66 343.23,139.01 344.73,139.36 346.23,139.68 347.72,139.99 349.22,140.27 350.72,140.53 352.21,140.76 353.71,140.96 355.21,141.12 356.7,141.24 358.2,141.31" stroke="#92d0ec" stroke-width="1.0" stroke-linejoin="round"/>
<polyline points="216,125.31 217.5,124.75 218.99,124.22 220.49,123.72 221.99,123.25 223.48,122.82 224.98,122.44 226.48,122.11 227.97,121.84 229.47,121.61 230.97,121.42 232.47,121.23 233.96,121.03 235.46,120.8 236.96,120.51 238.45,120.18 239.95,119.77 241.45,119.24 242.94,118.47 244.44,117.13 245.94,115.37 247.43,113.4 248.93,111.15 250.43,108.45 251.92,105.5 253.42,102.46 254.92,99 256.41,95.47 257.91,92.43 259.41,89.89 260.91,87.3 262.4,84.88 263.9,82.86 265.4,81.48 266.89,80.96 268.39,81.07 269.89,81.36 271.38,81.81 272.88,82.37 274.38,83.02 275.87,84.19 277.37,86.14 278.87,88.58 280.36,91.21 281.86,93.72 283.36,95.82 284.85,97.59 286.35,99.29 287.85,100.92 289.35,102.51 290.84,104.05 292.34,105.54 293.84,106.99 295.33,108.42 296.83,109.81 298.33,111.19 299.82,112.55 301.32,113.9 302.82,115.24 304.31,116.6 305.81,117.95 307.31,119.3 308.8,120.64 310.3,121.96 311.8,123.24 313.29,124.48 314.79,125.67 316.29,126.8 317.79,127.87 319.28,128.86 320.78,129.77 322.28,130.62 323.77,131.46 325.27,132.27 326.77,133.06 328.26,133.81 329.76,134.54 331.26,135.22 332.75,135.86 334.25,136.45 335.75,137 337.24,137.49 338.74,137.92 340.24,138.3 341.73,138.66 343.23,139.02 344.73,139.36 346.23,139.69 347.72,140 349.22,140.28 350.72,140.54 352.21,140.77 353.71,140.96 355.21,141.12 356.7,141.24 358.2,141.31" stroke="#2aa5dc" stroke-width="1.25" stroke-linejoin="round"/>
<polyline points="216,125.77 217.5,125.31 218.99,124.87 220.49,124.46 221.99,124.06 223.48,123.69 224.98,123.34 226.48,123.03 227.97,122.75 229.47,122.51 230.97,122.29 232.47,122.08 233.96,121.86 235.46,121.6 236.96,121.31 238.45,120.98 239.95,120.59 241.45,120.11 242.94,119.48 244.44,118.57 245.94,117.39 247.43,115.98 248.93,114.08 250.43,111.54 251.92,108.71 253.42,105.88 254.92,102.74 256.41,99.54 257.91,96.66 259.41,94.08 260.91,91.36 262.4,88.72 263.9,86.4 265.4,84.62 266.89,83.61 268.39,83.5 269.89,83.64 271.38,83.91 272.88,84.29 274.38,84.76 275.87,85.31 277.37,86.41 278.87,88.31 280.36,90.63 281.86,93 283.36,95.02 284.85,96.73 286.35,98.39 287.85,100.01 289.35,101.6 290.84,103.15 292.34,104.66 293.84,106.14 295.33,107.6 296.83,109.03 298.33,110.44 299.82,111.83 301.32,113.2 302.82,114.56 304.31,115.93 305.81,117.31 307.31,118.68 308.8,120.03 310.3,121.36 311.8,122.66 313.29,123.92 314.79,125.13 316.29,126.29 317.79,127.37 319.28,128.39 320.78,129.31 322.28,130.19 323.77,131.04 325.27,131.88 326.77,132.68 328.26,133.46 329.76,134.2 331.26,134.9 332.75,135.56 334.25,136.17 335.75,136.73 337.24,137.24 338.74,137.69 340.24,138.08 341.73,138.45 343.23,138.82 344.73,139.17 346.23,139.51 347.72,139.83 349.22,140.13 350.72,140.39 352.21,140.63 353.71,140.83 355.21,141 356.7,141.12 358.2,141.2" stroke="#1c6bb5" stroke-width="1.2" stroke-linejoin="round"/>
<polyline points="216,125.77 217.5,125.47 218.99,125.18 220.49,124.91 221.99,124.67 223.48,124.46 224.98,124.29 226.48,124.17 227.97,124.08 229.47,124.02 230.97,123.98 232.47,123.93 233.96,123.88 235.46,123.81 236.96,123.71 238.45,123.47 239.95,123.01 241.45,122.36 242.94,121.54 244.44,120.6 245.94,119.56 247.43,118.45 248.93,117.02 250.43,115.07 251.92,112.75 253.42,110.18 254.92,107.52 256.41,104.9 257.91,102.45 259.41,99.83 260.91,96.8 262.4,93.71 263.9,90.9 265.4,88.69 266.89,87.42 268.39,87.27 269.89,87.38 271.38,87.6 272.88,87.91 274.38,88.29 275.87,88.74 277.37,89.62 278.87,91.15 280.36,93.04 281.86,95 283.36,96.74 284.85,98.27 286.35,99.81 287.85,101.34 289.35,102.86 290.84,104.37 292.34,105.86 293.84,107.34 295.33,108.8 296.83,110.23 298.33,111.64 299.82,113.02 301.32,114.36 302.82,115.68 304.31,117 305.81,118.33 307.31,119.65 308.8,120.95 310.3,122.24 311.8,123.49 313.29,124.7 314.79,125.87 316.29,126.98 317.79,128.02 319.28,128.99 320.78,129.88 322.28,130.72 323.77,131.55 325.27,132.35 326.77,133.12 328.26,133.86 329.76,134.57 331.26,135.25 332.75,135.88 334.25,136.47 335.75,137.01 337.24,137.49 338.74,137.92 340.24,138.3 341.73,138.66 343.23,139.01 344.73,139.36 346.23,139.68 347.72,139.99 349.22,140.27 350.72,140.53 352.21,140.76 353.71,140.96 355.21,141.12 356.7,141.24 358.2,141.31" stroke="#cbc3ea" stroke-width="1.0" stroke-linejoin="round"/>
<polyline points="216,130 217.5,129.97 218.99,129.9 220.49,129.78 221.99,129.62 223.48,129.41 224.98,129.18 226.48,128.9 227.97,128.6 229.47,128.28 230.97,127.92 232.47,127.55 233.96,127.16 235.46,126.76 236.96,126.34 238.45,125.85 239.95,125.22 241.45,124.48 242.94,123.63 244.44,122.7 245.94,121.69 247.43,120.62 248.93,119.41 250.43,117.94 251.92,116.29 253.42,114.51 254.92,112.68 256.41,110.86 257.91,109.11 259.41,107.25 260.91,105.11 262.4,102.99 263.9,101.22 265.4,100.15 266.89,99.89 268.39,99.75 269.89,99.65 271.38,99.6 272.88,99.65 274.38,100.08 275.87,100.85 277.37,101.87 278.87,103.03 280.36,104.24 281.86,105.42 283.36,106.45 284.85,107.39 286.35,108.34 287.85,109.29 289.35,110.25 290.84,111.21 292.34,112.17 293.84,113.14 295.33,114.11 296.83,115.08 298.33,116.04 299.82,117.01 301.32,117.97 302.82,118.94 304.31,119.93 305.81,120.94 307.31,121.96 308.8,122.99 310.3,124.02 311.8,125.04 313.29,126.04 314.79,127.01 316.29,127.94 317.79,128.83 319.28,129.67 320.78,130.46 322.28,131.2 323.77,131.94 325.27,132.68 326.77,133.39 328.26,134.09 329.76,134.76 331.26,135.39 332.75,135.99 334.25,136.55 335.75,137.07 337.24,137.53 338.74,137.93 340.24,138.28 341.73,138.62 343.23,138.95 344.73,139.27 346.23,139.57 347.72,139.86 349.22,140.12 350.72,140.36 352.21,140.57 353.71,140.75 355.21,140.9 356.7,141.01 358.2,141.09" stroke="#9a8fd6" stroke-width="1.1" stroke-linejoin="round"/>
<polyline points="216,136.28 217.5,136.04 218.99,135.75 220.49,135.41 221.99,135.03 223.48,134.61 224.98,134.17 226.48,133.7 227.97,133.19 229.47,132.61 230.97,131.97 232.47,131.28 233.96,130.55 235.46,129.77 236.96,128.97 238.45,128.12 239.95,127.2 241.45,126.21 242.94,125.17 244.44,124.07 245.94,122.92 247.43,121.72 248.93,120.42 250.43,118.96 251.92,117.4 253.42,115.79 254.92,114.19 256.41,112.65 257.91,111.23 259.41,109.81 260.91,108.27 262.4,106.8 263.9,105.59 265.4,104.86 266.89,104.65 268.39,104.53 269.89,104.45 271.38,104.4 272.88,104.43 274.38,104.68 275.87,105.14 277.37,105.75 278.87,106.47 280.36,107.24 281.86,108.01 283.36,108.74 284.85,109.45 286.35,110.21 287.85,111.01 289.35,111.85 290.84,112.72 292.34,113.62 293.84,114.53 295.33,115.45 296.83,116.39 298.33,117.32 299.82,118.24 301.32,119.15 302.82,120.05 304.31,120.98 305.81,121.93 307.31,122.91 308.8,123.89 310.3,124.88 311.8,125.85 313.29,126.81 314.79,127.75 316.29,128.64 317.79,129.49 319.28,130.29 320.78,131.03 322.28,131.72 323.77,132.41 325.27,133.09 326.77,133.74 328.26,134.38 329.76,134.99 331.26,135.58 332.75,136.13 334.25,136.64 335.75,137.12 337.24,137.55 338.74,137.94 340.24,138.28 341.73,138.61 343.23,138.93 344.73,139.24 346.23,139.53 347.72,139.81 349.22,140.07 350.72,140.31 352.21,140.52 353.71,140.71 355.21,140.87 356.7,140.99 358.2,141.09" stroke="#6b3fb0" stroke-width="1.1" stroke-linejoin="round"/>
</g>
<rect x="216" y="29.3" width="142.2" height="114.3" fill="none" stroke="#1b1b1b" stroke-width="1.3"/>
<line x1="213.8" y1="143.6" x2="216" y2="143.6" stroke="#1b1b1b" stroke-width="1.1"/>
<text x="212" y="145.83" font-size="6.63" text-anchor="end" font-weight="bold" font-family='"Liberation Serif", serif' fill="#111" stroke="#111" stroke-width="0.22" textLength="3.1" lengthAdjust="spacingAndGlyphs">0</text>
<line x1="213.8" y1="120.74" x2="216" y2="120.74" stroke="#1b1b1b" stroke-width="1.1"/>
<text x="212" y="122.97" font-size="6.63" text-anchor="end" font-weight="bold" font-family='"Liberation Serif", serif' fill="#111" stroke="#111" stroke-width="0.22" textLength="12.4" lengthAdjust="spacingAndGlyphs">2000</text>
<line x1="213.8" y1="97.88" x2="216" y2="97.88" stroke="#1b1b1b" stroke-width="1.1"/>
<text x="212" y="100.11" font-size="6.63" text-anchor="end" font-weight="bold" font-family='"Liberation Serif", serif' fill="#111" stroke="#111" stroke-width="0.22" textLength="12.4" lengthAdjust="spacingAndGlyphs">4000</text>
<line x1="213.8" y1="75.02" x2="216" y2="75.02" stroke="#1b1b1b" stroke-width="1.1"/>
<text x="212" y="77.25" font-size="6.63" text-anchor="end" font-weight="bold" font-family='"Liberation Serif", serif' fill="#111" stroke="#111" stroke-width="0.22" textLength="12.4" lengthAdjust="spacingAndGlyphs">6000</text>
<line x1="213.8" y1="52.16" x2="216" y2="52.16" stroke="#1b1b1b" stroke-width="1.1"/>
<text x="212" y="54.39" font-size="6.63" text-anchor="end" font-weight="bold" font-family='"Liberation Serif", serif' fill="#111" stroke="#111" stroke-width="0.22" textLength="12.4" lengthAdjust="spacingAndGlyphs">8000</text>
<line x1="213.8" y1="29.3" x2="216" y2="29.3" stroke="#1b1b1b" stroke-width="1.1"/>
<text x="212" y="31.53" font-size="6.63" text-anchor="end" font-weight="bold" font-family='"Liberation Serif", serif' fill="#111" stroke="#111" stroke-width="0.22" textLength="17.05" lengthAdjust="spacingAndGlyphs">10,000</text>
<line x1="245.94" y1="143.6" x2="245.94" y2="145.8" stroke="#1b1b1b" stroke-width="1.1"/>
<text x="245.94" y="153.43" font-size="6.63" text-anchor="middle" font-weight="bold" font-family='"Liberation Serif", serif' fill="#111" stroke="#111" stroke-width="0.22" textLength="9.3" lengthAdjust="spacingAndGlyphs">400</text>
<line x1="283.36" y1="143.6" x2="283.36" y2="145.8" stroke="#1b1b1b" stroke-width="1.1"/>
<text x="283.36" y="153.43" font-size="6.63" text-anchor="middle" font-weight="bold" font-family='"Liberation Serif", serif' fill="#111" stroke="#111" stroke-width="0.22" textLength="9.3" lengthAdjust="spacingAndGlyphs">450</text>
<line x1="320.78" y1="143.6" x2="320.78" y2="145.8" stroke="#1b1b1b" stroke-width="1.1"/>
<text x="320.78" y="153.43" font-size="6.63" text-anchor="middle" font-weight="bold" font-family='"Liberation Serif", serif' fill="#111" stroke="#111" stroke-width="0.22" textLength="9.3" lengthAdjust="spacingAndGlyphs">500</text>
<line x1="358.2" y1="143.6" x2="358.2" y2="145.8" stroke="#1b1b1b" stroke-width="1.1"/>
<text x="358.2" y="153.43" font-size="6.63" text-anchor="middle" font-weight="bold" font-family='"Liberation Serif", serif' fill="#111" stroke="#111" stroke-width="0.22" textLength="9.3" lengthAdjust="spacingAndGlyphs">550</text>
<text x="193.6" y="88.2" font-size="7.6" text-anchor="middle" font-weight="bold" font-family='"Liberation Serif", serif' fill="#111" stroke="#111" stroke-width="0.22" textLength="54" lengthAdjust="spacingAndGlyphs" transform="rotate(-90 193.6 85.6)">FL intensity / a.u.</text>
<text x="287.1" y="161.7" font-size="7.35" text-anchor="middle" font-weight="bold" font-family='"Liberation Serif", serif' fill="#111" stroke="#111" stroke-width="0.22" textLength="50" lengthAdjust="spacingAndGlyphs">Wavelength / nm</text>
<line x1="315.5" y1="37" x2="326.8" y2="37" stroke="#fdb35c" stroke-width="1.15"/>
<text x="328.8" y="38.85" font-size="5" font-weight="bold" font-family='"Liberation Serif", serif' fill="#111" stroke="#111" stroke-width="0.22" textLength="10.74" lengthAdjust="spacingAndGlyphs">0 μM</text>
<line x1="315.5" y1="43.68" x2="326.8" y2="43.68" stroke="#f7851f" stroke-width="1.5"/>
<text x="328.8" y="45.53" font-size="5" font-weight="bold" font-family='"Liberation Serif", serif' fill="#111" stroke="#111" stroke-width="0.22" textLength="19.05" lengthAdjust="spacingAndGlyphs">0.005 μM</text>
<line x1="315.5" y1="50.36" x2="326.8" y2="50.36" stroke="#a3dc8f" stroke-width="1.3"/>
<text x="328.8" y="52.21" font-size="5" font-weight="bold" font-family='"Liberation Serif", serif' fill="#111" stroke="#111" stroke-width="0.22" textLength="21.43" lengthAdjust="spacingAndGlyphs">0.0075 μM</text>
<line x1="315.5" y1="57.04" x2="326.8" y2="57.04" stroke="#1e9b30" stroke-width="1.5"/>
<text x="328.8" y="58.89" font-size="5" font-weight="bold" font-family='"Liberation Serif", serif' fill="#111" stroke="#111" stroke-width="0.22" textLength="16.68" lengthAdjust="spacingAndGlyphs">0.01 μM</text>
<line x1="315.5" y1="63.72" x2="326.8" y2="63.72" stroke="#f8c4b4" stroke-width="1.3"/>
<text x="328.8" y="65.57" font-size="5" font-weight="bold" font-family='"Liberation Serif", serif' fill="#111" stroke="#111" stroke-width="0.22" textLength="16.68" lengthAdjust="spacingAndGlyphs">0.03 μM</text>
<line x1="315.5" y1="70.4" x2="326.8" y2="70.4" stroke="#f4584a" stroke-width="1.4"/>
<text x="328.8" y="72.25" font-size="5" font-weight="bold" font-family='"Liberation Serif", serif' fill="#111" stroke="#111" stroke-width="0.22" textLength="16.68" lengthAdjust="spacingAndGlyphs">0.09 μM</text>
<line x1="315.5" y1="77.08" x2="326.8" y2="77.08" stroke="#dc1a1f" stroke-width="1.5"/>
<text x="328.8" y="78.93" font-size="5" font-weight="bold" font-family='"Liberation Serif", serif' fill="#111" stroke="#111" stroke-width="0.22" textLength="16.68" lengthAdjust="spacingAndGlyphs">0.27 μM</text>
<line x1="315.5" y1="83.76" x2="326.8" y2="83.76" stroke="#92d0ec" stroke-width="1.3"/>
<text x="328.8" y="85.61" font-size="5" font-weight="bold" font-family='"Liberation Serif", serif' fill="#111" stroke="#111" stroke-width="0.22" textLength="16.68" lengthAdjust="spacingAndGlyphs">0.81 μM</text>
<line x1="315.5" y1="90.44" x2="326.8" y2="90.44" stroke="#2aa5dc" stroke-width="1.55"/>
<text x="328.8" y="92.29" font-size="5" font-weight="bold" font-family='"Liberation Serif", serif' fill="#111" stroke="#111" stroke-width="0.22" textLength="16.68" lengthAdjust="spacingAndGlyphs">2.43 μM</text>
<line x1="315.5" y1="97.12" x2="326.8" y2="97.12" stroke="#1c6bb5" stroke-width="1.5"/>
<text x="328.8" y="98.97" font-size="5" font-weight="bold" font-family='"Liberation Serif", serif' fill="#111" stroke="#111" stroke-width="0.22" textLength="16.68" lengthAdjust="spacingAndGlyphs">7.29 μM</text>
<line x1="315.5" y1="103.8" x2="326.8" y2="103.8" stroke="#cbc3ea" stroke-width="1.3"/>
<text x="328.8" y="105.65" font-size="5" font-weight="bold" font-family='"Liberation Serif", serif' fill="#111" stroke="#111" stroke-width="0.22" textLength="16.68" lengthAdjust="spacingAndGlyphs">10.0 μM</text>
<line x1="315.5" y1="110.48" x2="326.8" y2="110.48" stroke="#9a8fd6" stroke-width="1.4"/>
<text x="328.8" y="112.33" font-size="5" font-weight="bold" font-family='"Liberation Serif", serif' fill="#111" stroke="#111" stroke-width="0.22" textLength="13.11" lengthAdjust="spacingAndGlyphs">25 μM</text>
<line x1="315.5" y1="117.16" x2="326.8" y2="117.16" stroke="#6b3fb0" stroke-width="1.4"/>
<text x="328.8" y="119.01" font-size="5" font-weight="bold" font-family='"Liberation Serif", serif' fill="#111" stroke="#111" stroke-width="0.22" textLength="13.11" lengthAdjust="spacingAndGlyphs">50 μM</text>
<clipPath id="cC"><rect x="396.8" y="32" width="141.9" height="115"/></clipPath>
<g clip-path="url(#cC)" fill="none">
<polyline points="396.8,126.87 398.29,123.19 399.79,119.09 401.28,114.59 402.77,109.69 404.27,104.45 405.76,98.91 407.26,93.13 408.75,87.21 410.24,81.24 411.74,75.32 413.23,69.57 414.72,64.12 416.22,59.09 417.71,54.59 419.21,50.74 420.7,47.64 422.19,45.36 423.69,43.97 425.18,43.5 426.67,43.74 428.17,44.43 429.66,45.54 431.15,47.02 432.65,48.83 434.14,50.93 435.64,53.27 437.13,55.82 438.62,58.53 440.12,61.37 441.61,64.32 443.1,67.33 444.6,70.38 446.09,73.45 447.59,76.52 449.08,79.57 450.57,82.58 452.07,85.53 453.56,88.43 455.05,91.25 456.55,93.99 458.04,96.64 459.53,99.21 461.03,101.67 462.52,104.05 464.02,106.32 465.51,108.5 467,110.58 468.5,112.57 469.99,114.46 471.48,116.26 472.98,117.97 474.47,119.6 475.97,121.14 477.46,122.59 478.95,123.97 480.45,125.28 481.94,126.51 483.43,127.68 484.93,128.78 486.42,129.82 487.91,130.8 489.41,131.72 490.9,132.59 492.4,133.41 493.89,134.19 495.38,134.92 496.88,135.6 498.37,136.25 499.86,136.85 501.36,137.42 502.85,137.96 504.35,138.47 505.84,138.95 507.33,139.39 508.83,139.82 510.32,140.21 511.81,140.59 513.31,140.94 514.8,141.27 516.29,141.58 517.79,141.88 519.28,142.15 520.78,142.41 522.27,142.66 523.76,142.89 525.26,143.11 526.75,143.31 528.24,143.51 529.74,143.69 531.23,143.86 532.73,144.02 534.22,144.17 535.71,144.32 537.21,144.46 538.7,144.58" stroke="#fdb35c" stroke-width="0.85" stroke-linejoin="round"/>
<polyline points="396.8,127.92 398.29,124.44 399.79,120.55 401.28,116.28 402.77,111.65 404.27,106.68 405.76,101.43 407.26,95.95 408.75,90.34 410.24,84.68 411.74,79.07 413.23,73.63 414.72,68.46 416.22,63.7 417.71,59.43 419.21,55.79 420.7,52.84 422.19,50.68 423.69,49.37 425.18,48.92 426.67,49.15 428.17,49.81 429.66,50.86 431.15,52.26 432.65,53.98 434.14,55.96 435.64,58.18 437.13,60.59 438.62,63.16 440.12,65.86 441.61,68.65 443.1,71.5 444.6,74.4 446.09,77.31 447.59,80.21 449.08,83.1 450.57,85.95 452.07,88.75 453.56,91.5 455.05,94.17 456.55,96.77 458.04,99.28 459.53,101.71 461.03,104.05 462.52,106.3 464.02,108.45 465.51,110.52 467,112.49 468.5,114.37 469.99,116.17 471.48,117.87 472.98,119.49 474.47,121.03 475.97,122.49 477.46,123.87 478.95,125.18 480.45,126.42 481.94,127.59 483.43,128.69 484.93,129.74 486.42,130.72 487.91,131.65 489.41,132.52 490.9,133.35 492.4,134.13 493.89,134.86 495.38,135.55 496.88,136.2 498.37,136.81 499.86,137.38 501.36,137.93 502.85,138.44 504.35,138.92 505.84,139.37 507.33,139.79 508.83,140.19 510.32,140.57 511.81,140.92 513.31,141.26 514.8,141.57 516.29,141.87 517.79,142.14 519.28,142.41 520.78,142.65 522.27,142.89 523.76,143.1 525.26,143.31 526.75,143.5 528.24,143.69 529.74,143.86 531.23,144.02 532.73,144.18 534.22,144.32 535.71,144.46 537.21,144.59 538.7,144.71" stroke="#f7851f" stroke-width="1.2" stroke-linejoin="round"/>
<polyline points="396.8,129.06 398.29,125.85 399.79,122.29 401.28,118.37 402.77,114.12 404.27,109.56 405.76,104.74 407.26,99.7 408.75,94.53 410.24,89.29 411.74,84.07 413.23,78.98 414.72,74.1 416.22,69.55 417.71,65.42 419.21,61.81 420.7,58.81 422.19,56.5 423.69,54.92 425.18,54.11 426.67,54.07 428.17,54.49 429.66,55.31 431.15,56.48 432.65,57.96 434.14,59.72 435.64,61.72 437.13,63.92 438.62,66.28 440.12,68.78 441.61,71.39 443.1,74.06 444.6,76.79 446.09,79.55 447.59,82.31 449.08,85.05 450.57,87.78 452.07,90.46 453.56,93.09 455.05,95.65 456.55,98.15 458.04,100.58 459.53,102.92 461.03,105.18 462.52,107.36 464.02,109.44 465.51,111.45 467,113.36 468.5,115.19 469.99,116.93 471.48,118.59 472.98,120.16 474.47,121.66 475.97,123.08 477.46,124.43 478.95,125.7 480.45,126.91 481.94,128.05 483.43,129.13 484.93,130.14 486.42,131.11 487.91,132.01 489.41,132.87 490.9,133.67 492.4,134.43 493.89,135.15 495.38,135.82 496.88,136.46 498.37,137.05 499.86,137.62 501.36,138.14 502.85,138.64 504.35,139.11 505.84,139.55 507.33,139.97 508.83,140.36 510.32,140.73 511.81,141.07 513.31,141.4 514.8,141.71 516.29,141.99 517.79,142.27 519.28,142.52 520.78,142.76 522.27,142.99 523.76,143.2 525.26,143.41 526.75,143.6 528.24,143.77 529.74,143.94 531.23,144.1 532.73,144.25 534.22,144.39 535.71,144.53 537.21,144.65 538.7,144.77" stroke="#a3dc8f" stroke-width="1.0" stroke-linejoin="round"/>
<polyline points="396.8,129.53 398.29,126.41 399.79,122.94 401.28,119.13 402.77,114.99 404.27,110.55 405.76,105.86 407.26,100.96 408.75,95.92 410.24,90.82 411.74,85.74 413.23,80.78 414.72,76.03 416.22,71.6 417.71,67.58 419.21,64.07 420.7,61.15 422.19,58.89 423.69,57.36 425.18,56.58 426.67,56.53 428.17,56.94 429.66,57.74 431.15,58.88 432.65,60.32 434.14,62.03 435.64,63.98 437.13,66.12 438.62,68.42 440.12,70.85 441.61,73.39 443.1,76 444.6,78.65 446.09,81.33 447.59,84.02 449.08,86.7 450.57,89.35 452.07,91.96 453.56,94.51 455.05,97.01 456.55,99.45 458.04,101.81 459.53,104.09 461.03,106.29 462.52,108.41 464.02,110.44 465.51,112.39 467,114.25 468.5,116.03 469.99,117.73 471.48,119.34 472.98,120.87 474.47,122.33 475.97,123.71 477.46,125.03 478.95,126.27 480.45,127.44 481.94,128.55 483.43,129.6 484.93,130.59 486.42,131.53 487.91,132.41 489.41,133.24 490.9,134.03 492.4,134.76 493.89,135.46 495.38,136.12 496.88,136.73 498.37,137.32 499.86,137.86 501.36,138.38 502.85,138.86 504.35,139.32 505.84,139.75 507.33,140.15 508.83,140.54 510.32,140.89 511.81,141.23 513.31,141.55 514.8,141.85 516.29,142.13 517.79,142.39 519.28,142.64 520.78,142.88 522.27,143.1 523.76,143.3 525.26,143.5 526.75,143.69 528.24,143.86 529.74,144.02 531.23,144.18 532.73,144.33 534.22,144.46 535.71,144.59 537.21,144.72 538.7,144.83" stroke="#1e9b30" stroke-width="1.2" stroke-linejoin="round"/>
<polyline points="396.8,131.16 398.29,128.39 399.79,125.32 401.28,121.94 402.77,118.28 404.27,114.36 405.76,110.2 407.26,105.86 408.75,101.38 410.24,96.83 411.74,92.28 413.23,87.81 414.72,83.5 416.22,79.44 417.71,75.72 419.21,72.4 420.7,69.57 422.19,67.3 423.69,65.64 425.18,64.62 426.67,64.28 428.17,64.47 429.66,65.03 431.15,65.92 432.65,67.1 434.14,68.55 435.64,70.22 437.13,72.09 438.62,74.13 440.12,76.29 441.61,78.57 443.1,80.92 444.6,83.33 446.09,85.77 447.59,88.22 449.08,90.67 450.57,93.11 452.07,95.51 453.56,97.88 455.05,100.19 456.55,102.44 458.04,104.63 459.53,106.75 461.03,108.8 462.52,110.78 464.02,112.67 465.51,114.49 467,116.23 468.5,117.9 469.99,119.48 471.48,121 472.98,122.43 474.47,123.8 475.97,125.1 477.46,126.33 478.95,127.49 480.45,128.6 481.94,129.64 483.43,130.63 484.93,131.56 486.42,132.44 487.91,133.27 489.41,134.05 490.9,134.79 492.4,135.49 493.89,136.14 495.38,136.76 496.88,137.34 498.37,137.89 499.86,138.4 501.36,138.89 502.85,139.35 504.35,139.78 505.84,140.18 507.33,140.56 508.83,140.92 510.32,141.26 511.81,141.58 513.31,141.87 514.8,142.16 516.29,142.42 517.79,142.67 519.28,142.9 520.78,143.13 522.27,143.33 523.76,143.53 525.26,143.71 526.75,143.89 528.24,144.05 529.74,144.21 531.23,144.35 532.73,144.49 534.22,144.62 535.71,144.74 537.21,144.86 538.7,144.97" stroke="#f8c4b4" stroke-width="1.0" stroke-linejoin="round"/>
<polyline points="396.8,129.08 398.29,126.55 399.79,123.83 401.28,120.92 402.77,117.86 404.27,114.66 405.76,111.36 407.26,107.99 408.75,104.6 410.24,101.23 411.74,97.94 413.23,94.78 414.72,91.8 416.22,89.05 417.71,86.58 419.21,84.45 420.7,82.68 422.19,81.33 423.69,80.41 425.18,79.95 426.67,79.93 428.17,80.26 429.66,80.89 431.15,81.79 432.65,82.94 434.14,84.3 435.64,85.83 437.13,87.52 438.62,89.34 440.12,91.25 441.61,93.24 443.1,95.28 444.6,97.35 446.09,99.44 447.59,101.52 449.08,103.59 450.57,105.64 452.07,107.64 453.56,109.6 455.05,111.51 456.55,113.36 458.04,115.14 459.53,116.87 461.03,118.52 462.52,120.11 464.02,121.62 465.51,123.07 467,124.45 468.5,125.76 469.99,127.01 471.48,128.19 472.98,129.3 474.47,130.36 475.97,131.36 477.46,132.3 478.95,133.19 480.45,134.03 481.94,134.82 483.43,135.56 484.93,136.26 486.42,136.91 487.91,137.53 489.41,138.11 490.9,138.65 492.4,139.16 493.89,139.64 495.38,140.08 496.88,140.5 498.37,140.9 499.86,141.27 501.36,141.61 502.85,141.94 504.35,142.24 505.84,142.53 507.33,142.79 508.83,143.04 510.32,143.28 511.81,143.5 513.31,143.7 514.8,143.9 516.29,144.08 517.79,144.25 519.28,144.41 520.78,144.56 522.27,144.7 523.76,144.83 525.26,144.95 526.75,145.07 528.24,145.18 529.74,145.28 531.23,145.37 532.73,145.46 534.22,145.55 535.71,145.63 537.21,145.7 538.7,145.77" stroke="#f4584a" stroke-width="1.1" stroke-linejoin="round"/>
<polyline points="396.8,129.41 398.29,127.08 399.79,124.57 401.28,121.91 402.77,119.12 404.27,116.21 405.76,113.22 407.26,110.17 408.75,107.1 410.24,104.06 411.74,101.07 413.23,98.19 414.72,95.46 416.22,92.93 417.71,90.63 419.21,88.61 420.7,86.91 422.19,85.55 423.69,84.55 425.18,83.95 426.67,83.75 428.17,83.91 429.66,84.36 431.15,85.09 432.65,86.06 434.14,87.24 435.64,88.61 437.13,90.13 438.62,91.79 440.12,93.55 441.61,95.39 443.1,97.29 444.6,99.23 446.09,101.19 447.59,103.16 449.08,105.12 450.57,107.06 452.07,108.96 453.56,110.83 455.05,112.66 456.55,114.43 458.04,116.14 459.53,117.8 461.03,119.39 462.52,120.92 464.02,122.38 465.51,123.77 467,125.11 468.5,126.37 469.99,127.58 471.48,128.72 472.98,129.8 474.47,130.83 475.97,131.8 477.46,132.71 478.95,133.57 480.45,134.39 481.94,135.15 483.43,135.87 484.93,136.55 486.42,137.19 487.91,137.79 489.41,138.35 490.9,138.88 492.4,139.37 493.89,139.84 495.38,140.27 496.88,140.68 498.37,141.07 499.86,141.43 501.36,141.76 502.85,142.08 504.35,142.37 505.84,142.65 507.33,142.91 508.83,143.16 510.32,143.38 511.81,143.6 513.31,143.8 514.8,143.99 516.29,144.16 517.79,144.33 519.28,144.48 520.78,144.63 522.27,144.76 523.76,144.89 525.26,145.01 526.75,145.13 528.24,145.23 529.74,145.33 531.23,145.42 532.73,145.51 534.22,145.59 535.71,145.67 537.21,145.74 538.7,145.81" stroke="#dc1a1f" stroke-width="1.2" stroke-linejoin="round"/>
<polyline points="396.8,130.29 398.29,128.13 399.79,125.83 401.28,123.38 402.77,120.8 404.27,118.11 405.76,115.34 407.26,112.5 408.75,109.63 410.24,106.76 411.74,103.93 413.23,101.17 414.72,98.52 416.22,96.02 417.71,93.71 419.21,91.62 420.7,89.79 422.19,88.24 423.69,87.01 425.18,86.12 426.67,85.57 428.17,85.39 429.66,85.54 431.15,85.95 432.65,86.61 434.14,87.49 435.64,88.57 437.13,89.82 438.62,91.21 440.12,92.72 441.61,94.34 443.1,96.03 444.6,97.78 446.09,99.58 447.59,101.39 449.08,103.22 450.57,105.05 452.07,106.86 453.56,108.65 455.05,110.41 456.55,112.14 458.04,113.81 459.53,115.45 461.03,117.03 462.52,118.55 464.02,120.02 465.51,121.43 467,122.79 468.5,124.08 469.99,125.32 471.48,126.51 472.98,127.63 474.47,128.7 475.97,129.72 477.46,130.69 478.95,131.6 480.45,132.47 481.94,133.29 483.43,134.07 484.93,134.81 486.42,135.5 487.91,136.16 489.41,136.77 490.9,137.36 492.4,137.91 493.89,138.43 495.38,138.91 496.88,139.37 498.37,139.81 499.86,140.21 501.36,140.6 502.85,140.96 504.35,141.3 505.84,141.62 507.33,141.92 508.83,142.21 510.32,142.47 511.81,142.72 513.31,142.96 514.8,143.18 516.29,143.39 517.79,143.59 519.28,143.77 520.78,143.95 522.27,144.11 523.76,144.27 525.26,144.42 526.75,144.55 528.24,144.68 529.74,144.8 531.23,144.92 532.73,145.03 534.22,145.13 535.71,145.23 537.21,145.32 538.7,145.4" stroke="#92d0ec" stroke-width="1.0" stroke-linejoin="round"/>
<polyline points="396.8,128.76 398.29,125.32 399.79,122.1 401.28,119.12 402.77,116.43 404.27,114.07 405.76,111.99 407.26,110.09 408.75,108.29 410.24,106.48 411.74,104.54 413.23,102.48 414.72,100.47 416.22,98.71 417.71,97.39 419.21,96.41 420.7,95.56 422.19,94.84 423.69,94.25 425.18,93.79 426.67,93.37 428.17,92.98 429.66,92.68 431.15,92.49 432.65,92.47 434.14,92.62 435.64,92.89 437.13,93.26 438.62,93.68 440.12,94.17 441.61,94.91 443.1,95.85 444.6,96.93 446.09,98.07 447.59,99.33 449.08,100.79 450.57,102.44 452.07,104.21 453.56,106.08 455.05,108.01 456.55,109.95 458.04,111.86 459.53,113.71 461.03,115.46 462.52,117.06 464.02,118.52 465.51,119.96 467,121.35 468.5,122.71 469.99,124.02 471.48,125.27 472.98,126.46 474.47,127.58 475.97,128.62 477.46,129.63 478.95,130.61 480.45,131.53 481.94,132.41 483.43,133.23 484.93,133.99 486.42,134.68 487.91,135.32 489.41,135.96 490.9,136.58 492.4,137.18 493.89,137.76 495.38,138.32 496.88,138.86 498.37,139.38 499.86,139.86 501.36,140.32 502.85,140.74 504.35,141.13 505.84,141.48 507.33,141.8 508.83,142.07 510.32,142.32 511.81,142.57 513.31,142.82 514.8,143.06 516.29,143.29 517.79,143.52 519.28,143.74 520.78,143.96 522.27,144.16 523.76,144.35 525.26,144.52 526.75,144.69 528.24,144.83 529.74,144.97 531.23,145.08 532.73,145.18 534.22,145.25 535.71,145.31 537.21,145.35 538.7,145.36" stroke="#2aa5dc" stroke-width="1.25" stroke-linejoin="round"/>
<polyline points="396.8,133.78 398.29,132.46 399.79,131.23 401.28,130.13 402.77,129.18 404.27,128.38 405.76,127.66 407.26,127.02 408.75,126.46 410.24,125.99 411.74,125.62 413.23,125.34 414.72,125.1 416.22,124.83 417.71,124.49 419.21,124.07 420.7,123.57 422.19,122.98 423.69,122.29 425.18,121.49 426.67,120.36 428.17,118.9 429.66,117.25 431.15,115.55 432.65,113.87 434.14,111.97 435.64,109.96 437.13,108.06 438.62,106.49 440.12,105.35 441.61,104.28 443.1,103.34 444.6,102.67 446.09,102.4 447.59,102.54 449.08,102.95 450.57,103.5 452.07,104.15 453.56,105.15 455.05,106.49 456.55,108.06 458.04,109.78 459.53,111.55 461.03,113.29 462.52,114.9 464.02,116.42 465.51,118.01 467,119.62 468.5,121.22 469.99,122.78 471.48,124.24 472.98,125.57 474.47,126.74 475.97,127.82 477.46,128.84 478.95,129.79 480.45,130.69 481.94,131.53 483.43,132.32 484.93,133.04 486.42,133.72 487.91,134.37 489.41,134.99 490.9,135.6 492.4,136.18 493.89,136.74 495.38,137.28 496.88,137.8 498.37,138.3 499.86,138.79 501.36,139.25 502.85,139.7 504.35,140.13 505.84,140.54 507.33,140.93 508.83,141.32 510.32,141.7 511.81,142.08 513.31,142.45 514.8,142.8 516.29,143.14 517.79,143.45 519.28,143.73 520.78,143.99 522.27,144.2 523.76,144.37 525.26,144.52 526.75,144.66 528.24,144.8 529.74,144.93 531.23,145.05 532.73,145.15 534.22,145.24 535.71,145.3 537.21,145.34 538.7,145.36" stroke="#1c6bb5" stroke-width="1.2" stroke-linejoin="round"/>
<polyline points="396.8,135.25 398.29,134.44 399.79,133.66 401.28,132.94 402.77,132.26 404.27,131.62 405.76,131.04 407.26,130.51 408.75,130.03 410.24,129.6 411.74,129.24 413.23,128.95 414.72,128.69 416.22,128.43 417.71,128.11 419.21,127.75 420.7,127.38 422.19,126.95 423.69,126.43 425.18,125.78 426.67,124.73 428.17,123.27 429.66,121.58 431.15,119.83 432.65,118.15 434.14,116.28 435.64,114.31 437.13,112.42 438.62,110.81 440.12,109.55 441.61,108.38 443.1,107.33 444.6,106.51 446.09,106.02 447.59,105.77 449.08,105.59 450.57,105.52 452.07,105.78 453.56,106.5 455.05,107.58 456.55,108.93 458.04,110.43 459.53,112.01 461.03,113.55 462.52,114.96 464.02,116.36 465.51,117.89 467,119.49 468.5,121.11 469.99,122.69 471.48,124.16 472.98,125.47 474.47,126.6 475.97,127.63 477.46,128.61 478.95,129.53 480.45,130.39 481.94,131.2 483.43,131.97 484.93,132.69 486.42,133.38 487.91,134.05 489.41,134.71 490.9,135.35 492.4,135.99 493.89,136.6 495.38,137.19 496.88,137.76 498.37,138.31 499.86,138.82 501.36,139.31 502.85,139.77 504.35,140.19 505.84,140.58 507.33,140.93 508.83,141.24 510.32,141.54 511.81,141.85 513.31,142.15 514.8,142.44 516.29,142.73 517.79,143.01 519.28,143.28 520.78,143.54 522.27,143.78 523.76,144.02 525.26,144.24 526.75,144.44 528.24,144.63 529.74,144.8 531.23,144.95 532.73,145.08 534.22,145.18 535.71,145.27 537.21,145.32 538.7,145.36" stroke="#cbc3ea" stroke-width="1.0" stroke-linejoin="round"/>
<polyline points="396.8,135.25 398.29,134.91 399.79,134.57 401.28,134.24 402.77,133.92 404.27,133.6 405.76,133.3 407.26,133 408.75,132.72 410.24,132.45 411.74,132.19 413.23,131.98 414.72,131.8 416.22,131.63 417.71,131.46 419.21,131.28 420.7,131.06 422.19,130.8 423.69,130.49 425.18,130.09 426.67,129.34 428.17,128.19 429.66,126.81 431.15,125.35 432.65,123.92 434.14,122.31 435.64,120.56 437.13,118.81 438.62,117.19 440.12,115.73 441.61,114.21 443.1,112.77 444.6,111.62 446.09,110.96 447.59,110.66 449.08,110.45 450.57,110.36 452.07,110.56 453.56,111.09 455.05,111.88 456.55,112.88 458.04,114 459.53,115.18 461.03,116.34 462.52,117.43 464.02,118.52 465.51,119.73 467,121.01 468.5,122.31 469.99,123.6 471.48,124.83 472.98,125.95 474.47,126.95 475.97,127.89 477.46,128.79 478.95,129.65 480.45,130.47 481.94,131.25 483.43,132 484.93,132.7 486.42,133.37 487.91,134.03 489.41,134.68 490.9,135.32 492.4,135.95 493.89,136.56 495.38,137.15 496.88,137.73 498.37,138.28 499.86,138.8 501.36,139.3 502.85,139.76 504.35,140.19 505.84,140.58 507.33,140.93 508.83,141.24 510.32,141.54 511.81,141.85 513.31,142.15 514.8,142.44 516.29,142.73 517.79,143.01 519.28,143.28 520.78,143.54 522.27,143.78 523.76,144.02 525.26,144.24 526.75,144.44 528.24,144.63 529.74,144.8 531.23,144.95 532.73,145.08 534.22,145.18 535.71,145.27 537.21,145.32 538.7,145.36" stroke="#9a8fd6" stroke-width="1.1" stroke-linejoin="round"/>
<polyline points="396.8,142.32 398.29,142.15 399.79,141.97 401.28,141.77 402.77,141.56 404.27,141.33 405.76,141.09 407.26,140.83 408.75,140.57 410.24,140.29 411.74,140.02 413.23,139.74 414.72,139.47 416.22,139.18 417.71,138.87 419.21,138.52 420.7,138.12 422.19,137.67 423.69,137.15 425.18,136.55 426.67,135.58 428.17,134.22 429.66,132.65 431.15,131.05 432.65,129.58 434.14,128.04 435.64,126.46 437.13,124.93 438.62,123.57 440.12,122.41 441.61,121.28 443.1,120.24 444.6,119.39 446.09,118.84 447.59,118.51 449.08,118.28 450.57,118.27 452.07,118.42 453.56,118.7 455.05,119.09 456.55,119.56 458.04,120.09 459.53,120.67 461.03,121.27 462.52,121.86 464.02,122.5 465.51,123.29 467,124.19 468.5,125.16 469.99,126.15 471.48,127.13 472.98,128.05 474.47,128.88 475.97,129.67 477.46,130.45 478.95,131.22 480.45,131.96 481.94,132.67 483.43,133.34 484.93,133.97 486.42,134.56 487.91,135.13 489.41,135.69 490.9,136.24 492.4,136.78 493.89,137.31 495.38,137.82 496.88,138.31 498.37,138.78 499.86,139.23 501.36,139.66 502.85,140.06 504.35,140.44 505.84,140.79 507.33,141.1 508.83,141.39 510.32,141.68 511.81,141.96 513.31,142.23 514.8,142.5 516.29,142.77 517.79,143.03 519.28,143.28 520.78,143.52 522.27,143.75 523.76,143.97 525.26,144.18 526.75,144.37 528.24,144.55 529.74,144.72 531.23,144.87 532.73,145.01 534.22,145.12 535.71,145.22 537.21,145.3 538.7,145.36" stroke="#6b3fb0" stroke-width="1.1" stroke-linejoin="round"/>
</g>
<rect x="396.8" y="32" width="141.9" height="115" fill="none" stroke="#1b1b1b" stroke-width="1.3"/>
<line x1="394.6" y1="147" x2="396.8" y2="147" stroke="#1b1b1b" stroke-width="1.1"/>
<text x="392.5" y="149.23" font-size="6.63" text-anchor="end" font-weight="bold" font-family='"Liberation Serif", serif' fill="#111" stroke="#111" stroke-width="0.22" textLength="3.1" lengthAdjust="spacingAndGlyphs">0</text>
<line x1="394.6" y1="130.57" x2="396.8" y2="130.57" stroke="#1b1b1b" stroke-width="1.1"/>
<text x="392.5" y="132.8" font-size="6.63" text-anchor="end" font-weight="bold" font-family='"Liberation Serif", serif' fill="#111" stroke="#111" stroke-width="0.22" textLength="12.4" lengthAdjust="spacingAndGlyphs">2000</text>
<line x1="394.6" y1="114.14" x2="396.8" y2="114.14" stroke="#1b1b1b" stroke-width="1.1"/>
<text x="392.5" y="116.37" font-size="6.63" text-anchor="end" font-weight="bold" font-family='"Liberation Serif", serif' fill="#111" stroke="#111" stroke-width="0.22" textLength="12.4" lengthAdjust="spacingAndGlyphs">4000</text>
<line x1="394.6" y1="97.71" x2="396.8" y2="97.71" stroke="#1b1b1b" stroke-width="1.1"/>
<text x="392.5" y="99.95" font-size="6.63" text-anchor="end" font-weight="bold" font-family='"Liberation Serif", serif' fill="#111" stroke="#111" stroke-width="0.22" textLength="12.4" lengthAdjust="spacingAndGlyphs">6000</text>
<line x1="394.6" y1="81.29" x2="396.8" y2="81.29" stroke="#1b1b1b" stroke-width="1.1"/>
<text x="392.5" y="83.52" font-size="6.63" text-anchor="end" font-weight="bold" font-family='"Liberation Serif", serif' fill="#111" stroke="#111" stroke-width="0.22" textLength="12.4" lengthAdjust="spacingAndGlyphs">8000</text>
<line x1="394.6" y1="64.86" x2="396.8" y2="64.86" stroke="#1b1b1b" stroke-width="1.1"/>
<text x="392.5" y="67.09" font-size="6.63" text-anchor="end" font-weight="bold" font-family='"Liberation Serif", serif' fill="#111" stroke="#111" stroke-width="0.22" textLength="17.05" lengthAdjust="spacingAndGlyphs">10,000</text>
<line x1="394.6" y1="48.43" x2="396.8" y2="48.43" stroke="#1b1b1b" stroke-width="1.1"/>
<text x="392.5" y="50.66" font-size="6.63" text-anchor="end" font-weight="bold" font-family='"Liberation Serif", serif' fill="#111" stroke="#111" stroke-width="0.22" textLength="17.05" lengthAdjust="spacingAndGlyphs">12,000</text>
<line x1="394.6" y1="32" x2="396.8" y2="32" stroke="#1b1b1b" stroke-width="1.1"/>
<text x="392.5" y="34.23" font-size="6.63" text-anchor="end" font-weight="bold" font-family='"Liberation Serif", serif' fill="#111" stroke="#111" stroke-width="0.22" textLength="17.05" lengthAdjust="spacingAndGlyphs">14,000</text>
<line x1="426.67" y1="147" x2="426.67" y2="149.2" stroke="#1b1b1b" stroke-width="1.1"/>
<text x="426.67" y="156.83" font-size="6.63" text-anchor="middle" font-weight="bold" font-family='"Liberation Serif", serif' fill="#111" stroke="#111" stroke-width="0.22" textLength="9.3" lengthAdjust="spacingAndGlyphs">400</text>
<line x1="464.02" y1="147" x2="464.02" y2="149.2" stroke="#1b1b1b" stroke-width="1.1"/>
<text x="464.02" y="156.83" font-size="6.63" text-anchor="middle" font-weight="bold" font-family='"Liberation Serif", serif' fill="#111" stroke="#111" stroke-width="0.22" textLength="9.3" lengthAdjust="spacingAndGlyphs">450</text>
<line x1="501.36" y1="147" x2="501.36" y2="149.2" stroke="#1b1b1b" stroke-width="1.1"/>
<text x="501.36" y="156.83" font-size="6.63" text-anchor="middle" font-weight="bold" font-family='"Liberation Serif", serif' fill="#111" stroke="#111" stroke-width="0.22" textLength="9.3" lengthAdjust="spacingAndGlyphs">500</text>
<line x1="538.7" y1="147" x2="538.7" y2="149.2" stroke="#1b1b1b" stroke-width="1.1"/>
<text x="538.7" y="156.83" font-size="6.63" text-anchor="middle" font-weight="bold" font-family='"Liberation Serif", serif' fill="#111" stroke="#111" stroke-width="0.22" textLength="9.3" lengthAdjust="spacingAndGlyphs">550</text>
<text x="371.4" y="88.9" font-size="7.6" text-anchor="middle" font-weight="bold" font-family='"Liberation Serif", serif' fill="#111" stroke="#111" stroke-width="0.22" textLength="52.5" lengthAdjust="spacingAndGlyphs" transform="rotate(-90 371.4 86.3)">FL intensity / a.u.</text>
<text x="470.8" y="164.7" font-size="7.35" text-anchor="middle" font-weight="bold" font-family='"Liberation Serif", serif' fill="#111" stroke="#111" stroke-width="0.22" textLength="50.7" lengthAdjust="spacingAndGlyphs">Wavelength / nm</text>
<line x1="495.8" y1="40.5" x2="508.6" y2="40.5" stroke="#fdb35c" stroke-width="1.15"/>
<text x="510.8" y="42.35" font-size="5" font-weight="bold" font-family='"Liberation Serif", serif' fill="#111" stroke="#111" stroke-width="0.22" textLength="11.08" lengthAdjust="spacingAndGlyphs">0 μM</text>
<line x1="495.8" y1="47.18" x2="508.6" y2="47.18" stroke="#f7851f" stroke-width="1.5"/>
<text x="510.8" y="49.03" font-size="5" font-weight="bold" font-family='"Liberation Serif", serif' fill="#111" stroke="#111" stroke-width="0.22" textLength="19.65" lengthAdjust="spacingAndGlyphs">0.005 μM</text>
<line x1="495.8" y1="53.86" x2="508.6" y2="53.86" stroke="#a3dc8f" stroke-width="1.3"/>
<text x="510.8" y="55.71" font-size="5" font-weight="bold" font-family='"Liberation Serif", serif' fill="#111" stroke="#111" stroke-width="0.22" textLength="22.1" lengthAdjust="spacingAndGlyphs">0.0075 μM</text>
<line x1="495.8" y1="60.54" x2="508.6" y2="60.54" stroke="#1e9b30" stroke-width="1.5"/>
<text x="510.8" y="62.39" font-size="5" font-weight="bold" font-family='"Liberation Serif", serif' fill="#111" stroke="#111" stroke-width="0.22" textLength="17.2" lengthAdjust="spacingAndGlyphs">0.01 μM</text>
<line x1="495.8" y1="67.22" x2="508.6" y2="67.22" stroke="#f8c4b4" stroke-width="1.3"/>
<text x="510.8" y="69.07" font-size="5" font-weight="bold" font-family='"Liberation Serif", serif' fill="#111" stroke="#111" stroke-width="0.22" textLength="17.2" lengthAdjust="spacingAndGlyphs">0.03 μM</text>
<line x1="495.8" y1="73.9" x2="508.6" y2="73.9" stroke="#f4584a" stroke-width="1.4"/>
<text x="510.8" y="75.75" font-size="5" font-weight="bold" font-family='"Liberation Serif", serif' fill="#111" stroke="#111" stroke-width="0.22" textLength="17.2" lengthAdjust="spacingAndGlyphs">0.09 μM</text>
<line x1="495.8" y1="80.58" x2="508.6" y2="80.58" stroke="#dc1a1f" stroke-width="1.5"/>
<text x="510.8" y="82.43" font-size="5" font-weight="bold" font-family='"Liberation Serif", serif' fill="#111" stroke="#111" stroke-width="0.22" textLength="17.2" lengthAdjust="spacingAndGlyphs">0.27 μM</text>
<line x1="495.8" y1="87.26" x2="508.6" y2="87.26" stroke="#92d0ec" stroke-width="1.3"/>
<text x="510.8" y="89.11" font-size="5" font-weight="bold" font-family='"Liberation Serif", serif' fill="#111" stroke="#111" stroke-width="0.22" textLength="17.2" lengthAdjust="spacingAndGlyphs">0.81 μM</text>
<line x1="495.8" y1="93.94" x2="508.6" y2="93.94" stroke="#2aa5dc" stroke-width="1.55"/>
<text x="510.8" y="95.79" font-size="5" font-weight="bold" font-family='"Liberation Serif", serif' fill="#111" stroke="#111" stroke-width="0.22" textLength="17.2" lengthAdjust="spacingAndGlyphs">2.43 μM</text>
<line x1="495.8" y1="100.62" x2="508.6" y2="100.62" stroke="#1c6bb5" stroke-width="1.5"/>
<text x="510.8" y="102.47" font-size="5" font-weight="bold" font-family='"Liberation Serif", serif' fill="#111" stroke="#111" stroke-width="0.22" textLength="17.2" lengthAdjust="spacingAndGlyphs">7.29 μM</text>
<line x1="495.8" y1="107.3" x2="508.6" y2="107.3" stroke="#cbc3ea" stroke-width="1.3"/>
<text x="510.8" y="109.15" font-size="5" font-weight="bold" font-family='"Liberation Serif", serif' fill="#111" stroke="#111" stroke-width="0.22" textLength="17.2" lengthAdjust="spacingAndGlyphs">10.0 μM</text>
<line x1="495.8" y1="113.98" x2="508.6" y2="113.98" stroke="#9a8fd6" stroke-width="1.4"/>
<text x="510.8" y="115.83" font-size="5" font-weight="bold" font-family='"Liberation Serif", serif' fill="#111" stroke="#111" stroke-width="0.22" textLength="13.53" lengthAdjust="spacingAndGlyphs">25 μM</text>
<line x1="495.8" y1="120.66" x2="508.6" y2="120.66" stroke="#6b3fb0" stroke-width="1.4"/>
<text x="510.8" y="122.51" font-size="5" font-weight="bold" font-family='"Liberation Serif", serif' fill="#111" stroke="#111" stroke-width="0.22" textLength="13.53" lengthAdjust="spacingAndGlyphs">50 μM</text>
<rect x="37.4" y="180" width="141.5" height="116.2" fill="none" stroke="#1b1b1b" stroke-width="1.3"/>
<line x1="35.2" y1="296.2" x2="37.4" y2="296.2" stroke="#1b1b1b" stroke-width="1.1"/>
<text x="33.6" y="298.43" font-size="6.63" text-anchor="end" font-weight="bold" font-family='"Liberation Serif", serif' fill="#111" stroke="#111" stroke-width="0.22" textLength="7.75" lengthAdjust="spacingAndGlyphs">0.0</text>
<line x1="35.2" y1="267.15" x2="37.4" y2="267.15" stroke="#1b1b1b" stroke-width="1.1"/>
<text x="33.6" y="269.38" font-size="6.63" text-anchor="end" font-weight="bold" font-family='"Liberation Serif", serif' fill="#111" stroke="#111" stroke-width="0.22" textLength="7.75" lengthAdjust="spacingAndGlyphs">0.2</text>
<line x1="35.2" y1="238.1" x2="37.4" y2="238.1" stroke="#1b1b1b" stroke-width="1.1"/>
<text x="33.6" y="240.33" font-size="6.63" text-anchor="end" font-weight="bold" font-family='"Liberation Serif", serif' fill="#111" stroke="#111" stroke-width="0.22" textLength="7.75" lengthAdjust="spacingAndGlyphs">0.4</text>
<line x1="35.2" y1="209.05" x2="37.4" y2="209.05" stroke="#1b1b1b" stroke-width="1.1"/>
<text x="33.6" y="211.28" font-size="6.63" text-anchor="end" font-weight="bold" font-family='"Liberation Serif", serif' fill="#111" stroke="#111" stroke-width="0.22" textLength="7.75" lengthAdjust="spacingAndGlyphs">0.6</text>
<line x1="35.2" y1="180" x2="37.4" y2="180" stroke="#1b1b1b" stroke-width="1.1"/>
<text x="33.6" y="182.23" font-size="6.63" text-anchor="end" font-weight="bold" font-family='"Liberation Serif", serif' fill="#111" stroke="#111" stroke-width="0.22" textLength="7.75" lengthAdjust="spacingAndGlyphs">0.8</text>
<line x1="48.28" y1="296.2" x2="48.28" y2="298.4" stroke="#1b1b1b" stroke-width="1.1"/>
<text x="48.28" y="305.43" font-size="6.63" text-anchor="middle" font-weight="bold" font-family='"Liberation Serif", serif' fill="#111" stroke="#111" stroke-width="0.22" textLength="3.1" lengthAdjust="spacingAndGlyphs">0</text>
<line x1="70.05" y1="296.2" x2="70.05" y2="298.4" stroke="#1b1b1b" stroke-width="1.1"/>
<text x="70.05" y="305.43" font-size="6.63" text-anchor="middle" font-weight="bold" font-family='"Liberation Serif", serif' fill="#111" stroke="#111" stroke-width="0.22" textLength="6.2" lengthAdjust="spacingAndGlyphs">10</text>
<line x1="91.82" y1="296.2" x2="91.82" y2="298.4" stroke="#1b1b1b" stroke-width="1.1"/>
<text x="91.82" y="305.43" font-size="6.63" text-anchor="middle" font-weight="bold" font-family='"Liberation Serif", serif' fill="#111" stroke="#111" stroke-width="0.22" textLength="6.2" lengthAdjust="spacingAndGlyphs">20</text>
<line x1="113.59" y1="296.2" x2="113.59" y2="298.4" stroke="#1b1b1b" stroke-width="1.1"/>
<text x="113.59" y="305.43" font-size="6.63" text-anchor="middle" font-weight="bold" font-family='"Liberation Serif", serif' fill="#111" stroke="#111" stroke-width="0.22" textLength="6.2" lengthAdjust="spacingAndGlyphs">30</text>
<line x1="135.36" y1="296.2" x2="135.36" y2="298.4" stroke="#1b1b1b" stroke-width="1.1"/>
<text x="135.36" y="305.43" font-size="6.63" text-anchor="middle" font-weight="bold" font-family='"Liberation Serif", serif' fill="#111" stroke="#111" stroke-width="0.22" textLength="6.2" lengthAdjust="spacingAndGlyphs">40</text>
<line x1="157.13" y1="296.2" x2="157.13" y2="298.4" stroke="#1b1b1b" stroke-width="1.1"/>
<text x="157.13" y="305.43" font-size="6.63" text-anchor="middle" font-weight="bold" font-family='"Liberation Serif", serif' fill="#111" stroke="#111" stroke-width="0.22" textLength="6.2" lengthAdjust="spacingAndGlyphs">50</text>
<line x1="178.9" y1="296.2" x2="178.9" y2="298.4" stroke="#1b1b1b" stroke-width="1.1"/>
<text x="178.9" y="305.43" font-size="6.63" text-anchor="middle" font-weight="bold" font-family='"Liberation Serif", serif' fill="#111" stroke="#111" stroke-width="0.22" textLength="6.2" lengthAdjust="spacingAndGlyphs">60</text>
<text x="18.7" y="240.75" font-size="7.8" text-anchor="middle" font-weight="bold" font-family='"Liberation Serif", serif' fill="#111" stroke="#111" stroke-width="0.22" transform="rotate(-90 18.7 238.1)" textLength="31.8" lengthAdjust="spacingAndGlyphs">(F<tspan font-size="5.77" dy="1.72">0</tspan><tspan dy="-1.72">-F) / F</tspan><tspan font-size="5.77" dy="1.72">0</tspan></text>
<text x="108.2" y="316.68" font-size="7.3" text-anchor="middle" font-weight="bold" font-family='"Liberation Serif", serif' fill="#111" stroke="#111" stroke-width="0.22" textLength="33" lengthAdjust="spacingAndGlyphs">C<tspan font-size="4.82" dy="1.9">AFB1</tspan><tspan dy="-1.9"> / μM</tspan></text>
<line x1="48.3" y1="276.84" x2="48.3" y2="288.84" stroke="#111" stroke-width="0.75"/>
<line x1="46.6" y1="276.84" x2="50" y2="276.84" stroke="#111" stroke-width="0.75"/>
<line x1="46.6" y1="288.84" x2="50" y2="288.84" stroke="#111" stroke-width="0.75"/>
<circle cx="48.3" cy="282.84" r="1.75" fill="#000"/>
<line x1="48.3" y1="261.25" x2="48.3" y2="267.25" stroke="#111" stroke-width="0.75"/>
<line x1="46.6" y1="261.25" x2="50" y2="261.25" stroke="#111" stroke-width="0.75"/>
<line x1="46.6" y1="267.25" x2="50" y2="267.25" stroke="#111" stroke-width="0.75"/>
<circle cx="48.3" cy="264.25" r="1.75" fill="#000"/>
<line x1="48.31" y1="258.07" x2="48.31" y2="266.07" stroke="#111" stroke-width="0.75"/>
<line x1="46.61" y1="258.07" x2="50.01" y2="258.07" stroke="#111" stroke-width="0.75"/>
<line x1="46.61" y1="266.07" x2="50.01" y2="266.07" stroke="#111" stroke-width="0.75"/>
<circle cx="48.31" cy="262.07" r="1.75" fill="#000"/>
<line x1="48.35" y1="252.8" x2="48.35" y2="256.8" stroke="#111" stroke-width="0.75"/>
<line x1="46.65" y1="252.8" x2="50.05" y2="252.8" stroke="#111" stroke-width="0.75"/>
<line x1="46.65" y1="256.8" x2="50.05" y2="256.8" stroke="#111" stroke-width="0.75"/>
<circle cx="48.35" cy="254.8" r="1.75" fill="#000"/>
<line x1="48.48" y1="249.62" x2="48.48" y2="255.62" stroke="#111" stroke-width="0.75"/>
<line x1="46.78" y1="249.62" x2="50.18" y2="249.62" stroke="#111" stroke-width="0.75"/>
<line x1="46.78" y1="255.62" x2="50.18" y2="255.62" stroke="#111" stroke-width="0.75"/>
<circle cx="48.48" cy="252.62" r="1.75" fill="#000"/>
<line x1="48.87" y1="233.12" x2="48.87" y2="245.12" stroke="#111" stroke-width="0.75"/>
<line x1="47.17" y1="233.12" x2="50.57" y2="233.12" stroke="#111" stroke-width="0.75"/>
<line x1="47.17" y1="245.12" x2="50.57" y2="245.12" stroke="#111" stroke-width="0.75"/>
<circle cx="48.87" cy="239.12" r="1.75" fill="#000"/>
<line x1="50.05" y1="226.35" x2="50.05" y2="234.75" stroke="#111" stroke-width="0.75"/>
<line x1="48.35" y1="226.35" x2="51.75" y2="226.35" stroke="#111" stroke-width="0.75"/>
<line x1="48.35" y1="234.75" x2="51.75" y2="234.75" stroke="#111" stroke-width="0.75"/>
<circle cx="50.05" cy="230.55" r="1.75" fill="#000"/>
<line x1="53.57" y1="215.09" x2="53.57" y2="228.29" stroke="#111" stroke-width="0.75"/>
<line x1="51.87" y1="215.09" x2="55.27" y2="215.09" stroke="#111" stroke-width="0.75"/>
<line x1="51.87" y1="228.29" x2="55.27" y2="228.29" stroke="#111" stroke-width="0.75"/>
<circle cx="53.57" cy="221.69" r="1.75" fill="#000"/>
<line x1="64.15" y1="207.92" x2="64.15" y2="211.92" stroke="#111" stroke-width="0.75"/>
<line x1="62.45" y1="207.92" x2="65.85" y2="207.92" stroke="#111" stroke-width="0.75"/>
<line x1="62.45" y1="211.92" x2="65.85" y2="211.92" stroke="#111" stroke-width="0.75"/>
<circle cx="64.15" cy="209.92" r="1.75" fill="#000"/>
<line x1="70.05" y1="192.99" x2="70.05" y2="200.99" stroke="#111" stroke-width="0.75"/>
<line x1="68.35" y1="192.99" x2="71.75" y2="192.99" stroke="#111" stroke-width="0.75"/>
<line x1="68.35" y1="200.99" x2="71.75" y2="200.99" stroke="#111" stroke-width="0.75"/>
<circle cx="70.05" cy="196.99" r="1.75" fill="#000"/>
<line x1="102.71" y1="186.84" x2="102.71" y2="192.04" stroke="#111" stroke-width="0.75"/>
<line x1="101.01" y1="186.84" x2="104.41" y2="186.84" stroke="#111" stroke-width="0.75"/>
<line x1="101.01" y1="192.04" x2="104.41" y2="192.04" stroke="#111" stroke-width="0.75"/>
<circle cx="102.71" cy="189.44" r="1.75" fill="#000"/>
<line x1="157.13" y1="182.99" x2="157.13" y2="192.99" stroke="#111" stroke-width="0.75"/>
<line x1="155.43" y1="182.99" x2="158.83" y2="182.99" stroke="#111" stroke-width="0.75"/>
<line x1="155.43" y1="192.99" x2="158.83" y2="192.99" stroke="#111" stroke-width="0.75"/>
<circle cx="157.13" cy="187.99" r="1.75" fill="#000"/>
<rect x="215.5" y="180.3" width="143.2" height="115.1" fill="none" stroke="#1b1b1b" stroke-width="1.3"/>
<line x1="213.3" y1="295.4" x2="215.5" y2="295.4" stroke="#1b1b1b" stroke-width="1.1"/>
<text x="212" y="297.63" font-size="6.63" text-anchor="end" font-weight="bold" font-family='"Liberation Serif", serif' fill="#111" stroke="#111" stroke-width="0.22" textLength="7.75" lengthAdjust="spacingAndGlyphs">0.0</text>
<line x1="213.3" y1="262.51" x2="215.5" y2="262.51" stroke="#1b1b1b" stroke-width="1.1"/>
<text x="212" y="264.75" font-size="6.63" text-anchor="end" font-weight="bold" font-family='"Liberation Serif", serif' fill="#111" stroke="#111" stroke-width="0.22" textLength="7.75" lengthAdjust="spacingAndGlyphs">0.2</text>
<line x1="213.3" y1="229.63" x2="215.5" y2="229.63" stroke="#1b1b1b" stroke-width="1.1"/>
<text x="212" y="231.86" font-size="6.63" text-anchor="end" font-weight="bold" font-family='"Liberation Serif", serif' fill="#111" stroke="#111" stroke-width="0.22" textLength="7.75" lengthAdjust="spacingAndGlyphs">0.4</text>
<line x1="213.3" y1="196.74" x2="215.5" y2="196.74" stroke="#1b1b1b" stroke-width="1.1"/>
<text x="212" y="198.97" font-size="6.63" text-anchor="end" font-weight="bold" font-family='"Liberation Serif", serif' fill="#111" stroke="#111" stroke-width="0.22" textLength="7.75" lengthAdjust="spacingAndGlyphs">0.6</text>
<line x1="226.52" y1="295.4" x2="226.52" y2="297.6" stroke="#1b1b1b" stroke-width="1.1"/>
<text x="226.52" y="304.83" font-size="6.63" text-anchor="middle" font-weight="bold" font-family='"Liberation Serif", serif' fill="#111" stroke="#111" stroke-width="0.22" textLength="3.1" lengthAdjust="spacingAndGlyphs">0</text>
<line x1="248.55" y1="295.4" x2="248.55" y2="297.6" stroke="#1b1b1b" stroke-width="1.1"/>
<text x="248.55" y="304.83" font-size="6.63" text-anchor="middle" font-weight="bold" font-family='"Liberation Serif", serif' fill="#111" stroke="#111" stroke-width="0.22" textLength="6.2" lengthAdjust="spacingAndGlyphs">10</text>
<line x1="270.58" y1="295.4" x2="270.58" y2="297.6" stroke="#1b1b1b" stroke-width="1.1"/>
<text x="270.58" y="304.83" font-size="6.63" text-anchor="middle" font-weight="bold" font-family='"Liberation Serif", serif' fill="#111" stroke="#111" stroke-width="0.22" textLength="6.2" lengthAdjust="spacingAndGlyphs">20</text>
<line x1="292.61" y1="295.4" x2="292.61" y2="297.6" stroke="#1b1b1b" stroke-width="1.1"/>
<text x="292.61" y="304.83" font-size="6.63" text-anchor="middle" font-weight="bold" font-family='"Liberation Serif", serif' fill="#111" stroke="#111" stroke-width="0.22" textLength="6.2" lengthAdjust="spacingAndGlyphs">30</text>
<line x1="314.64" y1="295.4" x2="314.64" y2="297.6" stroke="#1b1b1b" stroke-width="1.1"/>
<text x="314.64" y="304.83" font-size="6.63" text-anchor="middle" font-weight="bold" font-family='"Liberation Serif", serif' fill="#111" stroke="#111" stroke-width="0.22" textLength="6.2" lengthAdjust="spacingAndGlyphs">40</text>
<line x1="336.67" y1="295.4" x2="336.67" y2="297.6" stroke="#1b1b1b" stroke-width="1.1"/>
<text x="336.67" y="304.83" font-size="6.63" text-anchor="middle" font-weight="bold" font-family='"Liberation Serif", serif' fill="#111" stroke="#111" stroke-width="0.22" textLength="6.2" lengthAdjust="spacingAndGlyphs">50</text>
<line x1="358.7" y1="295.4" x2="358.7" y2="297.6" stroke="#1b1b1b" stroke-width="1.1"/>
<text x="358.7" y="304.83" font-size="6.63" text-anchor="middle" font-weight="bold" font-family='"Liberation Serif", serif' fill="#111" stroke="#111" stroke-width="0.22" textLength="6.2" lengthAdjust="spacingAndGlyphs">60</text>
<text x="194.7" y="241.85" font-size="7.8" text-anchor="middle" font-weight="bold" font-family='"Liberation Serif", serif' fill="#111" stroke="#111" stroke-width="0.22" transform="rotate(-90 194.7 239.2)" textLength="31.8" lengthAdjust="spacingAndGlyphs">(F<tspan font-size="5.77" dy="1.72">0</tspan><tspan dy="-1.72">-F) / F</tspan><tspan font-size="5.77" dy="1.72">0</tspan></text>
<text x="287.5" y="313.88" font-size="7.3" text-anchor="middle" font-weight="bold" font-family='"Liberation Serif", serif' fill="#111" stroke="#111" stroke-width="0.22" textLength="33" lengthAdjust="spacingAndGlyphs">C<tspan font-size="4.82" dy="1.9">AFB1</tspan><tspan dy="-1.9"> / μM</tspan></text>
<line x1="226.53" y1="285.01" x2="226.53" y2="289.01" stroke="#111" stroke-width="0.75"/>
<line x1="224.83" y1="285.01" x2="228.23" y2="285.01" stroke="#111" stroke-width="0.75"/>
<line x1="224.83" y1="289.01" x2="228.23" y2="289.01" stroke="#111" stroke-width="0.75"/>
<circle cx="226.53" cy="287.01" r="1.75" fill="#000"/>
<line x1="226.53" y1="283.37" x2="226.53" y2="287.37" stroke="#111" stroke-width="0.75"/>
<line x1="224.83" y1="283.37" x2="228.23" y2="283.37" stroke="#111" stroke-width="0.75"/>
<line x1="224.83" y1="287.37" x2="228.23" y2="287.37" stroke="#111" stroke-width="0.75"/>
<circle cx="226.53" cy="285.37" r="1.75" fill="#000"/>
<line x1="226.54" y1="277.29" x2="226.54" y2="281.29" stroke="#111" stroke-width="0.75"/>
<line x1="224.84" y1="277.29" x2="228.24" y2="277.29" stroke="#111" stroke-width="0.75"/>
<line x1="224.84" y1="281.29" x2="228.24" y2="281.29" stroke="#111" stroke-width="0.75"/>
<circle cx="226.54" cy="279.29" r="1.75" fill="#000"/>
<line x1="226.58" y1="269.05" x2="226.58" y2="275.05" stroke="#111" stroke-width="0.75"/>
<line x1="224.88" y1="269.05" x2="228.28" y2="269.05" stroke="#111" stroke-width="0.75"/>
<line x1="224.88" y1="275.05" x2="228.28" y2="275.05" stroke="#111" stroke-width="0.75"/>
<circle cx="226.58" cy="272.05" r="1.75" fill="#000"/>
<line x1="226.71" y1="250.46" x2="226.71" y2="263.06" stroke="#111" stroke-width="0.75"/>
<line x1="225.01" y1="250.46" x2="228.41" y2="250.46" stroke="#111" stroke-width="0.75"/>
<line x1="225.01" y1="263.06" x2="228.41" y2="263.06" stroke="#111" stroke-width="0.75"/>
<circle cx="226.71" cy="256.76" r="1.75" fill="#000"/>
<line x1="227.11" y1="241.93" x2="227.11" y2="245.93" stroke="#111" stroke-width="0.75"/>
<line x1="225.41" y1="241.93" x2="228.81" y2="241.93" stroke="#111" stroke-width="0.75"/>
<line x1="225.41" y1="245.93" x2="228.81" y2="245.93" stroke="#111" stroke-width="0.75"/>
<circle cx="227.11" cy="243.93" r="1.75" fill="#000"/>
<line x1="227.18" y1="241.6" x2="227.18" y2="245.6" stroke="#111" stroke-width="0.75"/>
<line x1="225.48" y1="241.6" x2="228.88" y2="241.6" stroke="#111" stroke-width="0.75"/>
<line x1="225.48" y1="245.6" x2="228.88" y2="245.6" stroke="#111" stroke-width="0.75"/>
<circle cx="227.18" cy="243.6" r="1.75" fill="#000"/>
<line x1="228.3" y1="234.52" x2="228.3" y2="245.12" stroke="#111" stroke-width="0.75"/>
<line x1="226.6" y1="234.52" x2="230" y2="234.52" stroke="#111" stroke-width="0.75"/>
<line x1="226.6" y1="245.12" x2="230" y2="245.12" stroke="#111" stroke-width="0.75"/>
<circle cx="228.3" cy="239.82" r="1.75" fill="#000"/>
<line x1="231.87" y1="224.09" x2="231.87" y2="240.09" stroke="#111" stroke-width="0.75"/>
<line x1="230.17" y1="224.09" x2="233.57" y2="224.09" stroke="#111" stroke-width="0.75"/>
<line x1="230.17" y1="240.09" x2="233.57" y2="240.09" stroke="#111" stroke-width="0.75"/>
<circle cx="231.87" cy="232.09" r="1.75" fill="#000"/>
<line x1="242.58" y1="221.34" x2="242.58" y2="231.34" stroke="#111" stroke-width="0.75"/>
<line x1="240.88" y1="221.34" x2="244.28" y2="221.34" stroke="#111" stroke-width="0.75"/>
<line x1="240.88" y1="231.34" x2="244.28" y2="231.34" stroke="#111" stroke-width="0.75"/>
<circle cx="242.58" cy="226.34" r="1.75" fill="#000"/>
<line x1="248.55" y1="217.76" x2="248.55" y2="221.76" stroke="#111" stroke-width="0.75"/>
<line x1="246.85" y1="217.76" x2="250.25" y2="217.76" stroke="#111" stroke-width="0.75"/>
<line x1="246.85" y1="221.76" x2="250.25" y2="221.76" stroke="#111" stroke-width="0.75"/>
<circle cx="248.55" cy="219.76" r="1.75" fill="#000"/>
<line x1="281.59" y1="199.65" x2="281.59" y2="202.05" stroke="#111" stroke-width="0.75"/>
<line x1="279.89" y1="199.65" x2="283.29" y2="199.65" stroke="#111" stroke-width="0.75"/>
<line x1="279.89" y1="202.05" x2="283.29" y2="202.05" stroke="#111" stroke-width="0.75"/>
<circle cx="281.59" cy="200.85" r="1.75" fill="#000"/>
<line x1="336.67" y1="189.45" x2="336.67" y2="197.45" stroke="#111" stroke-width="0.75"/>
<line x1="334.97" y1="189.45" x2="338.37" y2="189.45" stroke="#111" stroke-width="0.75"/>
<line x1="334.97" y1="197.45" x2="338.37" y2="197.45" stroke="#111" stroke-width="0.75"/>
<circle cx="336.67" cy="193.45" r="1.75" fill="#000"/>
<rect x="394.2" y="179.9" width="144.4" height="116.2" fill="none" stroke="#1b1b1b" stroke-width="1.3"/>
<line x1="392" y1="296.1" x2="394.2" y2="296.1" stroke="#1b1b1b" stroke-width="1.1"/>
<text x="390.8" y="298.33" font-size="6.63" text-anchor="end" font-weight="bold" font-family='"Liberation Serif", serif' fill="#111" stroke="#111" stroke-width="0.22" textLength="7.75" lengthAdjust="spacingAndGlyphs">0.0</text>
<line x1="392" y1="267.05" x2="394.2" y2="267.05" stroke="#1b1b1b" stroke-width="1.1"/>
<text x="390.8" y="269.28" font-size="6.63" text-anchor="end" font-weight="bold" font-family='"Liberation Serif", serif' fill="#111" stroke="#111" stroke-width="0.22" textLength="7.75" lengthAdjust="spacingAndGlyphs">0.2</text>
<line x1="392" y1="238" x2="394.2" y2="238" stroke="#1b1b1b" stroke-width="1.1"/>
<text x="390.8" y="240.23" font-size="6.63" text-anchor="end" font-weight="bold" font-family='"Liberation Serif", serif' fill="#111" stroke="#111" stroke-width="0.22" textLength="7.75" lengthAdjust="spacingAndGlyphs">0.4</text>
<line x1="392" y1="208.95" x2="394.2" y2="208.95" stroke="#1b1b1b" stroke-width="1.1"/>
<text x="390.8" y="211.18" font-size="6.63" text-anchor="end" font-weight="bold" font-family='"Liberation Serif", serif' fill="#111" stroke="#111" stroke-width="0.22" textLength="7.75" lengthAdjust="spacingAndGlyphs">0.6</text>
<line x1="392" y1="179.9" x2="394.2" y2="179.9" stroke="#1b1b1b" stroke-width="1.1"/>
<text x="390.8" y="182.13" font-size="6.63" text-anchor="end" font-weight="bold" font-family='"Liberation Serif", serif' fill="#111" stroke="#111" stroke-width="0.22" textLength="7.75" lengthAdjust="spacingAndGlyphs">0.8</text>
<line x1="405.31" y1="296.1" x2="405.31" y2="298.3" stroke="#1b1b1b" stroke-width="1.1"/>
<text x="405.31" y="305.23" font-size="6.63" text-anchor="middle" font-weight="bold" font-family='"Liberation Serif", serif' fill="#111" stroke="#111" stroke-width="0.22" textLength="3.1" lengthAdjust="spacingAndGlyphs">0</text>
<line x1="427.52" y1="296.1" x2="427.52" y2="298.3" stroke="#1b1b1b" stroke-width="1.1"/>
<text x="427.52" y="305.23" font-size="6.63" text-anchor="middle" font-weight="bold" font-family='"Liberation Serif", serif' fill="#111" stroke="#111" stroke-width="0.22" textLength="6.2" lengthAdjust="spacingAndGlyphs">10</text>
<line x1="449.74" y1="296.1" x2="449.74" y2="298.3" stroke="#1b1b1b" stroke-width="1.1"/>
<text x="449.74" y="305.23" font-size="6.63" text-anchor="middle" font-weight="bold" font-family='"Liberation Serif", serif' fill="#111" stroke="#111" stroke-width="0.22" textLength="6.2" lengthAdjust="spacingAndGlyphs">20</text>
<line x1="471.95" y1="296.1" x2="471.95" y2="298.3" stroke="#1b1b1b" stroke-width="1.1"/>
<text x="471.95" y="305.23" font-size="6.63" text-anchor="middle" font-weight="bold" font-family='"Liberation Serif", serif' fill="#111" stroke="#111" stroke-width="0.22" textLength="6.2" lengthAdjust="spacingAndGlyphs">30</text>
<line x1="494.17" y1="296.1" x2="494.17" y2="298.3" stroke="#1b1b1b" stroke-width="1.1"/>
<text x="494.17" y="305.23" font-size="6.63" text-anchor="middle" font-weight="bold" font-family='"Liberation Serif", serif' fill="#111" stroke="#111" stroke-width="0.22" textLength="6.2" lengthAdjust="spacingAndGlyphs">40</text>
<line x1="516.38" y1="296.1" x2="516.38" y2="298.3" stroke="#1b1b1b" stroke-width="1.1"/>
<text x="516.38" y="305.23" font-size="6.63" text-anchor="middle" font-weight="bold" font-family='"Liberation Serif", serif' fill="#111" stroke="#111" stroke-width="0.22" textLength="6.2" lengthAdjust="spacingAndGlyphs">50</text>
<line x1="538.6" y1="296.1" x2="538.6" y2="298.3" stroke="#1b1b1b" stroke-width="1.1"/>
<text x="538.6" y="305.23" font-size="6.63" text-anchor="middle" font-weight="bold" font-family='"Liberation Serif", serif' fill="#111" stroke="#111" stroke-width="0.22" textLength="6.2" lengthAdjust="spacingAndGlyphs">60</text>
<text x="375.2" y="240.45" font-size="7.8" text-anchor="middle" font-weight="bold" font-family='"Liberation Serif", serif' fill="#111" stroke="#111" stroke-width="0.22" transform="rotate(-90 375.2 237.8)" textLength="31.7" lengthAdjust="spacingAndGlyphs">(F<tspan font-size="5.77" dy="1.72">0</tspan><tspan dy="-1.72">-F) / F</tspan><tspan font-size="5.77" dy="1.72">0</tspan></text>
<text x="466.4" y="316.48" font-size="7.3" text-anchor="middle" font-weight="bold" font-family='"Liberation Serif", serif' fill="#111" stroke="#111" stroke-width="0.22" textLength="33" lengthAdjust="spacingAndGlyphs">C<tspan font-size="4.82" dy="1.9">AFB1</tspan><tspan dy="-1.9"> / μM</tspan></text>
<line x1="405.32" y1="281.95" x2="405.32" y2="291.95" stroke="#111" stroke-width="0.75"/>
<line x1="403.62" y1="281.95" x2="407.02" y2="281.95" stroke="#111" stroke-width="0.75"/>
<line x1="403.62" y1="291.95" x2="407.02" y2="291.95" stroke="#111" stroke-width="0.75"/>
<circle cx="405.32" cy="286.95" r="1.75" fill="#000"/>
<line x1="405.32" y1="279.58" x2="405.32" y2="283.58" stroke="#111" stroke-width="0.75"/>
<line x1="403.62" y1="279.58" x2="407.02" y2="279.58" stroke="#111" stroke-width="0.75"/>
<line x1="403.62" y1="283.58" x2="407.02" y2="283.58" stroke="#111" stroke-width="0.75"/>
<circle cx="405.32" cy="281.58" r="1.75" fill="#000"/>
<line x1="405.33" y1="271.89" x2="405.33" y2="277.89" stroke="#111" stroke-width="0.75"/>
<line x1="403.63" y1="271.89" x2="407.03" y2="271.89" stroke="#111" stroke-width="0.75"/>
<line x1="403.63" y1="277.89" x2="407.03" y2="277.89" stroke="#111" stroke-width="0.75"/>
<circle cx="405.33" cy="274.89" r="1.75" fill="#000"/>
<line x1="405.37" y1="265.55" x2="405.37" y2="268.55" stroke="#111" stroke-width="0.75"/>
<line x1="403.67" y1="265.55" x2="407.07" y2="265.55" stroke="#111" stroke-width="0.75"/>
<line x1="403.67" y1="268.55" x2="407.07" y2="268.55" stroke="#111" stroke-width="0.75"/>
<circle cx="405.37" cy="267.05" r="1.75" fill="#000"/>
<line x1="405.51" y1="249.99" x2="405.51" y2="259.99" stroke="#111" stroke-width="0.75"/>
<line x1="403.81" y1="249.99" x2="407.21" y2="249.99" stroke="#111" stroke-width="0.75"/>
<line x1="403.81" y1="259.99" x2="407.21" y2="259.99" stroke="#111" stroke-width="0.75"/>
<circle cx="405.51" cy="254.99" r="1.75" fill="#000"/>
<line x1="405.91" y1="242.31" x2="405.91" y2="245.31" stroke="#111" stroke-width="0.75"/>
<line x1="404.21" y1="242.31" x2="407.61" y2="242.31" stroke="#111" stroke-width="0.75"/>
<line x1="404.21" y1="245.31" x2="407.61" y2="245.31" stroke="#111" stroke-width="0.75"/>
<circle cx="405.91" cy="243.81" r="1.75" fill="#000"/>
<line x1="407.53" y1="233.6" x2="407.53" y2="236.6" stroke="#111" stroke-width="0.75"/>
<line x1="405.83" y1="233.6" x2="409.23" y2="233.6" stroke="#111" stroke-width="0.75"/>
<line x1="405.83" y1="236.6" x2="409.23" y2="236.6" stroke="#111" stroke-width="0.75"/>
<circle cx="407.53" cy="235.1" r="1.75" fill="#000"/>
<line x1="410.71" y1="223.63" x2="410.71" y2="232.03" stroke="#111" stroke-width="0.75"/>
<line x1="409.01" y1="223.63" x2="412.41" y2="223.63" stroke="#111" stroke-width="0.75"/>
<line x1="409.01" y1="232.03" x2="412.41" y2="232.03" stroke="#111" stroke-width="0.75"/>
<circle cx="410.71" cy="227.83" r="1.75" fill="#000"/>
<line x1="421.5" y1="208.43" x2="421.5" y2="217.03" stroke="#111" stroke-width="0.75"/>
<line x1="419.8" y1="208.43" x2="423.2" y2="208.43" stroke="#111" stroke-width="0.75"/>
<line x1="419.8" y1="217.03" x2="423.2" y2="217.03" stroke="#111" stroke-width="0.75"/>
<circle cx="421.5" cy="212.73" r="1.75" fill="#000"/>
<line x1="427.52" y1="205.43" x2="427.52" y2="216.83" stroke="#111" stroke-width="0.75"/>
<line x1="425.82" y1="205.43" x2="429.22" y2="205.43" stroke="#111" stroke-width="0.75"/>
<line x1="425.82" y1="216.83" x2="429.22" y2="216.83" stroke="#111" stroke-width="0.75"/>
<circle cx="427.52" cy="211.13" r="1.75" fill="#000"/>
<line x1="460.85" y1="197.8" x2="460.85" y2="205" stroke="#111" stroke-width="0.75"/>
<line x1="459.15" y1="197.8" x2="462.55" y2="197.8" stroke="#111" stroke-width="0.75"/>
<line x1="459.15" y1="205" x2="462.55" y2="205" stroke="#111" stroke-width="0.75"/>
<circle cx="460.85" cy="201.4" r="1.75" fill="#000"/>
<line x1="516.38" y1="186.18" x2="516.38" y2="195.98" stroke="#111" stroke-width="0.75"/>
<line x1="514.68" y1="186.18" x2="518.08" y2="186.18" stroke="#111" stroke-width="0.75"/>
<line x1="514.68" y1="195.98" x2="518.08" y2="195.98" stroke="#111" stroke-width="0.75"/>
<circle cx="516.38" cy="191.08" r="1.75" fill="#000"/>
<rect x="44.7" y="345.2" width="137.6" height="107.2" fill="none" stroke="#1b1b1b" stroke-width="1.3"/>
<line x1="42.5" y1="452.4" x2="44.7" y2="452.4" stroke="#1b1b1b" stroke-width="1.1"/>
<text x="41.2" y="454.63" font-size="6.63" text-anchor="end" font-weight="bold" font-family='"Liberation Serif", serif' fill="#111" stroke="#111" stroke-width="0.22" textLength="7.75" lengthAdjust="spacingAndGlyphs">0.0</text>
<line x1="42.5" y1="425.6" x2="44.7" y2="425.6" stroke="#1b1b1b" stroke-width="1.1"/>
<text x="41.2" y="427.83" font-size="6.63" text-anchor="end" font-weight="bold" font-family='"Liberation Serif", serif' fill="#111" stroke="#111" stroke-width="0.22" textLength="7.75" lengthAdjust="spacingAndGlyphs">0.2</text>
<line x1="42.5" y1="398.8" x2="44.7" y2="398.8" stroke="#1b1b1b" stroke-width="1.1"/>
<text x="41.2" y="401.03" font-size="6.63" text-anchor="end" font-weight="bold" font-family='"Liberation Serif", serif' fill="#111" stroke="#111" stroke-width="0.22" textLength="7.75" lengthAdjust="spacingAndGlyphs">0.4</text>
<line x1="42.5" y1="372" x2="44.7" y2="372" stroke="#1b1b1b" stroke-width="1.1"/>
<text x="41.2" y="374.23" font-size="6.63" text-anchor="end" font-weight="bold" font-family='"Liberation Serif", serif' fill="#111" stroke="#111" stroke-width="0.22" textLength="7.75" lengthAdjust="spacingAndGlyphs">0.6</text>
<line x1="42.5" y1="345.2" x2="44.7" y2="345.2" stroke="#1b1b1b" stroke-width="1.1"/>
<text x="41.2" y="347.43" font-size="6.63" text-anchor="end" font-weight="bold" font-family='"Liberation Serif", serif' fill="#111" stroke="#111" stroke-width="0.22" textLength="7.75" lengthAdjust="spacingAndGlyphs">0.8</text>
<line x1="44.78" y1="452.4" x2="44.78" y2="453.7" stroke="#1b1b1b" stroke-width="0.8"/>
<line x1="49.52" y1="452.4" x2="49.52" y2="453.7" stroke="#1b1b1b" stroke-width="0.8"/>
<line x1="53.2" y1="452.4" x2="53.2" y2="453.7" stroke="#1b1b1b" stroke-width="0.8"/>
<line x1="56.2" y1="452.4" x2="56.2" y2="453.7" stroke="#1b1b1b" stroke-width="0.8"/>
<line x1="58.74" y1="452.4" x2="58.74" y2="453.7" stroke="#1b1b1b" stroke-width="0.8"/>
<line x1="60.94" y1="452.4" x2="60.94" y2="453.7" stroke="#1b1b1b" stroke-width="0.8"/>
<line x1="62.88" y1="452.4" x2="62.88" y2="453.7" stroke="#1b1b1b" stroke-width="0.8"/>
<line x1="64.62" y1="452.4" x2="64.62" y2="454.6" stroke="#1b1b1b" stroke-width="1.1"/>
<text x="64.62" y="461.53" font-size="6.63" text-anchor="middle" font-weight="bold" font-family='"Liberation Serif", serif' fill="#111" stroke="#111" stroke-width="0.22" textLength="10.85" lengthAdjust="spacingAndGlyphs">0.01</text>
<line x1="76.04" y1="452.4" x2="76.04" y2="453.7" stroke="#1b1b1b" stroke-width="0.8"/>
<line x1="82.73" y1="452.4" x2="82.73" y2="453.7" stroke="#1b1b1b" stroke-width="0.8"/>
<line x1="87.47" y1="452.4" x2="87.47" y2="453.7" stroke="#1b1b1b" stroke-width="0.8"/>
<line x1="91.15" y1="452.4" x2="91.15" y2="453.7" stroke="#1b1b1b" stroke-width="0.8"/>
<line x1="94.15" y1="452.4" x2="94.15" y2="453.7" stroke="#1b1b1b" stroke-width="0.8"/>
<line x1="96.69" y1="452.4" x2="96.69" y2="453.7" stroke="#1b1b1b" stroke-width="0.8"/>
<line x1="98.89" y1="452.4" x2="98.89" y2="453.7" stroke="#1b1b1b" stroke-width="0.8"/>
<line x1="100.83" y1="452.4" x2="100.83" y2="453.7" stroke="#1b1b1b" stroke-width="0.8"/>
<line x1="102.57" y1="452.4" x2="102.57" y2="454.6" stroke="#1b1b1b" stroke-width="1.1"/>
<text x="102.57" y="461.53" font-size="6.63" text-anchor="middle" font-weight="bold" font-family='"Liberation Serif", serif' fill="#111" stroke="#111" stroke-width="0.22" textLength="7.75" lengthAdjust="spacingAndGlyphs">0.1</text>
<line x1="113.99" y1="452.4" x2="113.99" y2="453.7" stroke="#1b1b1b" stroke-width="0.8"/>
<line x1="120.68" y1="452.4" x2="120.68" y2="453.7" stroke="#1b1b1b" stroke-width="0.8"/>
<line x1="125.42" y1="452.4" x2="125.42" y2="453.7" stroke="#1b1b1b" stroke-width="0.8"/>
<line x1="129.1" y1="452.4" x2="129.1" y2="453.7" stroke="#1b1b1b" stroke-width="0.8"/>
<line x1="132.1" y1="452.4" x2="132.1" y2="453.7" stroke="#1b1b1b" stroke-width="0.8"/>
<line x1="134.64" y1="452.4" x2="134.64" y2="453.7" stroke="#1b1b1b" stroke-width="0.8"/>
<line x1="136.84" y1="452.4" x2="136.84" y2="453.7" stroke="#1b1b1b" stroke-width="0.8"/>
<line x1="138.78" y1="452.4" x2="138.78" y2="453.7" stroke="#1b1b1b" stroke-width="0.8"/>
<line x1="140.52" y1="452.4" x2="140.52" y2="454.6" stroke="#1b1b1b" stroke-width="1.1"/>
<text x="140.52" y="461.53" font-size="6.63" text-anchor="middle" font-weight="bold" font-family='"Liberation Serif", serif' fill="#111" stroke="#111" stroke-width="0.22" textLength="3.1" lengthAdjust="spacingAndGlyphs">1</text>
<line x1="151.94" y1="452.4" x2="151.94" y2="453.7" stroke="#1b1b1b" stroke-width="0.8"/>
<line x1="158.63" y1="452.4" x2="158.63" y2="453.7" stroke="#1b1b1b" stroke-width="0.8"/>
<line x1="163.37" y1="452.4" x2="163.37" y2="453.7" stroke="#1b1b1b" stroke-width="0.8"/>
<line x1="167.05" y1="452.4" x2="167.05" y2="453.7" stroke="#1b1b1b" stroke-width="0.8"/>
<line x1="170.05" y1="452.4" x2="170.05" y2="453.7" stroke="#1b1b1b" stroke-width="0.8"/>
<line x1="172.59" y1="452.4" x2="172.59" y2="453.7" stroke="#1b1b1b" stroke-width="0.8"/>
<line x1="174.79" y1="452.4" x2="174.79" y2="453.7" stroke="#1b1b1b" stroke-width="0.8"/>
<line x1="176.73" y1="452.4" x2="176.73" y2="453.7" stroke="#1b1b1b" stroke-width="0.8"/>
<line x1="178.47" y1="452.4" x2="178.47" y2="454.6" stroke="#1b1b1b" stroke-width="1.1"/>
<text x="178.47" y="461.53" font-size="6.63" text-anchor="middle" font-weight="bold" font-family='"Liberation Serif", serif' fill="#111" stroke="#111" stroke-width="0.22" textLength="6.2" lengthAdjust="spacingAndGlyphs">10</text>
<text x="27.6" y="406.85" font-size="7.8" text-anchor="middle" font-weight="bold" font-family='"Liberation Serif", serif' fill="#111" stroke="#111" stroke-width="0.22" transform="rotate(-90 27.6 404.2)" textLength="31" lengthAdjust="spacingAndGlyphs">(F<tspan font-size="5.77" dy="1.72">0</tspan><tspan dy="-1.72">-F) / F</tspan><tspan font-size="5.77" dy="1.72">0</tspan></text>
<text x="122.4" y="468.48" font-size="7.3" text-anchor="middle" font-weight="bold" font-family='"Liberation Serif", serif' fill="#111" stroke="#111" stroke-width="0.22" textLength="30" lengthAdjust="spacingAndGlyphs">C<tspan font-size="4.82" dy="1.9">AFB1</tspan><tspan dy="-1.9"> / μM</tspan></text>
<line x1="53.2" y1="435.51" x2="53.2" y2="445.71" stroke="#111" stroke-width="0.75"/>
<line x1="51.5" y1="435.51" x2="54.9" y2="435.51" stroke="#111" stroke-width="0.75"/>
<line x1="51.5" y1="445.71" x2="54.9" y2="445.71" stroke="#111" stroke-width="0.75"/>
<circle cx="53.2" cy="440.61" r="1.75" fill="#000"/>
<line x1="59.88" y1="419.16" x2="59.88" y2="427.76" stroke="#111" stroke-width="0.75"/>
<line x1="58.18" y1="419.16" x2="61.58" y2="419.16" stroke="#111" stroke-width="0.75"/>
<line x1="58.18" y1="427.76" x2="61.58" y2="427.76" stroke="#111" stroke-width="0.75"/>
<circle cx="59.88" cy="423.46" r="1.75" fill="#000"/>
<line x1="64.62" y1="416.21" x2="64.62" y2="424.81" stroke="#111" stroke-width="0.75"/>
<line x1="62.92" y1="416.21" x2="66.32" y2="416.21" stroke="#111" stroke-width="0.75"/>
<line x1="62.92" y1="424.81" x2="66.32" y2="424.81" stroke="#111" stroke-width="0.75"/>
<circle cx="64.62" cy="420.51" r="1.75" fill="#000"/>
<line x1="82.73" y1="411.94" x2="82.73" y2="415.94" stroke="#111" stroke-width="0.75"/>
<line x1="81.03" y1="411.94" x2="84.43" y2="411.94" stroke="#111" stroke-width="0.75"/>
<line x1="81.03" y1="415.94" x2="84.43" y2="415.94" stroke="#111" stroke-width="0.75"/>
<circle cx="82.73" cy="413.94" r="1.75" fill="#000"/>
<line x1="100.83" y1="405.38" x2="100.83" y2="409.38" stroke="#111" stroke-width="0.75"/>
<line x1="99.13" y1="405.38" x2="102.53" y2="405.38" stroke="#111" stroke-width="0.75"/>
<line x1="99.13" y1="409.38" x2="102.53" y2="409.38" stroke="#111" stroke-width="0.75"/>
<circle cx="100.83" cy="407.38" r="1.75" fill="#000"/>
<line x1="118.94" y1="394.97" x2="118.94" y2="405.57" stroke="#111" stroke-width="0.75"/>
<line x1="117.24" y1="394.97" x2="120.64" y2="394.97" stroke="#111" stroke-width="0.75"/>
<line x1="117.24" y1="405.57" x2="120.64" y2="405.57" stroke="#111" stroke-width="0.75"/>
<circle cx="118.94" cy="400.27" r="1.75" fill="#000"/>
<line x1="137.05" y1="387.73" x2="137.05" y2="396.73" stroke="#111" stroke-width="0.75"/>
<line x1="135.35" y1="387.73" x2="138.75" y2="387.73" stroke="#111" stroke-width="0.75"/>
<line x1="135.35" y1="396.73" x2="138.75" y2="396.73" stroke="#111" stroke-width="0.75"/>
<circle cx="137.05" cy="392.23" r="1.75" fill="#000"/>
<line x1="155.15" y1="378.93" x2="155.15" y2="389.73" stroke="#111" stroke-width="0.75"/>
<line x1="153.45" y1="378.93" x2="156.85" y2="378.93" stroke="#111" stroke-width="0.75"/>
<line x1="153.45" y1="389.73" x2="156.85" y2="389.73" stroke="#111" stroke-width="0.75"/>
<circle cx="155.15" cy="384.33" r="1.75" fill="#000"/>
<line x1="173.26" y1="371.47" x2="173.26" y2="375.47" stroke="#111" stroke-width="0.75"/>
<line x1="171.56" y1="371.47" x2="174.96" y2="371.47" stroke="#111" stroke-width="0.75"/>
<line x1="171.56" y1="375.47" x2="174.96" y2="375.47" stroke="#111" stroke-width="0.75"/>
<circle cx="173.26" cy="373.47" r="1.75" fill="#000"/>
<line x1="53.2" y1="427.36" x2="173.26" y2="374.03" stroke="#f82430" stroke-width="1.2"/>
<text x="69.9" y="370.55" font-size="7.3" text-anchor="start" font-weight="bold" font-family='"Liberation Serif", serif' fill="#3a9be6" stroke="#3a9be6" stroke-width="0.22" textLength="58.8" lengthAdjust="spacingAndGlyphs">y=0.1258 lgx+0.4763</text>
<text x="69.9" y="380.25" font-size="7.3" font-weight="bold" font-family='"Liberation Serif", serif' fill="#3a9be6" stroke="#3a9be6" stroke-width="0.22" textLength="24.3" lengthAdjust="spacingAndGlyphs">r<tspan font-size="5" dy="-2.4">2</tspan><tspan dy="2.4">=0.990</tspan></text>
<rect x="214.3" y="346.1" width="148" height="105.9" fill="none" stroke="#1b1b1b" stroke-width="1.3"/>
<line x1="212.1" y1="452" x2="214.3" y2="452" stroke="#1b1b1b" stroke-width="1.1"/>
<text x="210.6" y="454.23" font-size="6.63" text-anchor="end" font-weight="bold" font-family='"Liberation Serif", serif' fill="#111" stroke="#111" stroke-width="0.22" textLength="7.75" lengthAdjust="spacingAndGlyphs">0.0</text>
<line x1="212.1" y1="416.7" x2="214.3" y2="416.7" stroke="#1b1b1b" stroke-width="1.1"/>
<text x="210.6" y="418.93" font-size="6.63" text-anchor="end" font-weight="bold" font-family='"Liberation Serif", serif' fill="#111" stroke="#111" stroke-width="0.22" textLength="7.75" lengthAdjust="spacingAndGlyphs">0.2</text>
<line x1="212.1" y1="381.4" x2="214.3" y2="381.4" stroke="#1b1b1b" stroke-width="1.1"/>
<text x="210.6" y="383.63" font-size="6.63" text-anchor="end" font-weight="bold" font-family='"Liberation Serif", serif' fill="#111" stroke="#111" stroke-width="0.22" textLength="7.75" lengthAdjust="spacingAndGlyphs">0.4</text>
<line x1="212.1" y1="346.1" x2="214.3" y2="346.1" stroke="#1b1b1b" stroke-width="1.1"/>
<text x="210.6" y="348.33" font-size="6.63" text-anchor="end" font-weight="bold" font-family='"Liberation Serif", serif' fill="#111" stroke="#111" stroke-width="0.22" textLength="7.75" lengthAdjust="spacingAndGlyphs">0.6</text>
<line x1="214.47" y1="452" x2="214.47" y2="453.3" stroke="#1b1b1b" stroke-width="0.8"/>
<line x1="219.56" y1="452" x2="219.56" y2="453.3" stroke="#1b1b1b" stroke-width="0.8"/>
<line x1="223.52" y1="452" x2="223.52" y2="453.3" stroke="#1b1b1b" stroke-width="0.8"/>
<line x1="226.75" y1="452" x2="226.75" y2="453.3" stroke="#1b1b1b" stroke-width="0.8"/>
<line x1="229.48" y1="452" x2="229.48" y2="453.3" stroke="#1b1b1b" stroke-width="0.8"/>
<line x1="231.85" y1="452" x2="231.85" y2="453.3" stroke="#1b1b1b" stroke-width="0.8"/>
<line x1="233.93" y1="452" x2="233.93" y2="453.3" stroke="#1b1b1b" stroke-width="0.8"/>
<line x1="235.8" y1="452" x2="235.8" y2="454.2" stroke="#1b1b1b" stroke-width="1.1"/>
<text x="235.8" y="461.13" font-size="6.63" text-anchor="middle" font-weight="bold" font-family='"Liberation Serif", serif' fill="#111" stroke="#111" stroke-width="0.22" textLength="10.85" lengthAdjust="spacingAndGlyphs">0.01</text>
<line x1="248.08" y1="452" x2="248.08" y2="453.3" stroke="#1b1b1b" stroke-width="0.8"/>
<line x1="255.27" y1="452" x2="255.27" y2="453.3" stroke="#1b1b1b" stroke-width="0.8"/>
<line x1="260.36" y1="452" x2="260.36" y2="453.3" stroke="#1b1b1b" stroke-width="0.8"/>
<line x1="264.32" y1="452" x2="264.32" y2="453.3" stroke="#1b1b1b" stroke-width="0.8"/>
<line x1="267.55" y1="452" x2="267.55" y2="453.3" stroke="#1b1b1b" stroke-width="0.8"/>
<line x1="270.28" y1="452" x2="270.28" y2="453.3" stroke="#1b1b1b" stroke-width="0.8"/>
<line x1="272.65" y1="452" x2="272.65" y2="453.3" stroke="#1b1b1b" stroke-width="0.8"/>
<line x1="274.73" y1="452" x2="274.73" y2="453.3" stroke="#1b1b1b" stroke-width="0.8"/>
<line x1="276.6" y1="452" x2="276.6" y2="454.2" stroke="#1b1b1b" stroke-width="1.1"/>
<text x="276.6" y="461.13" font-size="6.63" text-anchor="middle" font-weight="bold" font-family='"Liberation Serif", serif' fill="#111" stroke="#111" stroke-width="0.22" textLength="7.75" lengthAdjust="spacingAndGlyphs">0.1</text>
<line x1="288.88" y1="452" x2="288.88" y2="453.3" stroke="#1b1b1b" stroke-width="0.8"/>
<line x1="296.07" y1="452" x2="296.07" y2="453.3" stroke="#1b1b1b" stroke-width="0.8"/>
<line x1="301.16" y1="452" x2="301.16" y2="453.3" stroke="#1b1b1b" stroke-width="0.8"/>
<line x1="305.12" y1="452" x2="305.12" y2="453.3" stroke="#1b1b1b" stroke-width="0.8"/>
<line x1="308.35" y1="452" x2="308.35" y2="453.3" stroke="#1b1b1b" stroke-width="0.8"/>
<line x1="311.08" y1="452" x2="311.08" y2="453.3" stroke="#1b1b1b" stroke-width="0.8"/>
<line x1="313.45" y1="452" x2="313.45" y2="453.3" stroke="#1b1b1b" stroke-width="0.8"/>
<line x1="315.53" y1="452" x2="315.53" y2="453.3" stroke="#1b1b1b" stroke-width="0.8"/>
<line x1="317.4" y1="452" x2="317.4" y2="454.2" stroke="#1b1b1b" stroke-width="1.1"/>
<text x="317.4" y="461.13" font-size="6.63" text-anchor="middle" font-weight="bold" font-family='"Liberation Serif", serif' fill="#111" stroke="#111" stroke-width="0.22" textLength="3.1" lengthAdjust="spacingAndGlyphs">1</text>
<line x1="329.68" y1="452" x2="329.68" y2="453.3" stroke="#1b1b1b" stroke-width="0.8"/>
<line x1="336.87" y1="452" x2="336.87" y2="453.3" stroke="#1b1b1b" stroke-width="0.8"/>
<line x1="341.96" y1="452" x2="341.96" y2="453.3" stroke="#1b1b1b" stroke-width="0.8"/>
<line x1="345.92" y1="452" x2="345.92" y2="453.3" stroke="#1b1b1b" stroke-width="0.8"/>
<line x1="349.15" y1="452" x2="349.15" y2="453.3" stroke="#1b1b1b" stroke-width="0.8"/>
<line x1="351.88" y1="452" x2="351.88" y2="453.3" stroke="#1b1b1b" stroke-width="0.8"/>
<line x1="354.25" y1="452" x2="354.25" y2="453.3" stroke="#1b1b1b" stroke-width="0.8"/>
<line x1="356.33" y1="452" x2="356.33" y2="453.3" stroke="#1b1b1b" stroke-width="0.8"/>
<line x1="358.2" y1="452" x2="358.2" y2="454.2" stroke="#1b1b1b" stroke-width="1.1"/>
<text x="358.2" y="461.13" font-size="6.63" text-anchor="middle" font-weight="bold" font-family='"Liberation Serif", serif' fill="#111" stroke="#111" stroke-width="0.22" textLength="6.2" lengthAdjust="spacingAndGlyphs">10</text>
<text x="196.9" y="402.25" font-size="7.8" text-anchor="middle" font-weight="bold" font-family='"Liberation Serif", serif' fill="#111" stroke="#111" stroke-width="0.22" transform="rotate(-90 196.9 399.6)" textLength="32" lengthAdjust="spacingAndGlyphs">(F<tspan font-size="5.77" dy="1.72">0</tspan><tspan dy="-1.72">-F) / F</tspan><tspan font-size="5.77" dy="1.72">0</tspan></text>
<text x="292.9" y="469.48" font-size="7.3" text-anchor="middle" font-weight="bold" font-family='"Liberation Serif", serif' fill="#111" stroke="#111" stroke-width="0.22" textLength="32" lengthAdjust="spacingAndGlyphs">C<tspan font-size="4.82" dy="1.9">AFB1</tspan><tspan dy="-1.9"> / μM</tspan></text>
<line x1="223.52" y1="438.71" x2="223.52" y2="444.11" stroke="#111" stroke-width="0.75"/>
<line x1="221.82" y1="438.71" x2="225.22" y2="438.71" stroke="#111" stroke-width="0.75"/>
<line x1="221.82" y1="444.11" x2="225.22" y2="444.11" stroke="#111" stroke-width="0.75"/>
<circle cx="223.52" cy="441.41" r="1.75" fill="#000"/>
<line x1="230.7" y1="427.75" x2="230.7" y2="440.95" stroke="#111" stroke-width="0.75"/>
<line x1="229" y1="427.75" x2="232.4" y2="427.75" stroke="#111" stroke-width="0.75"/>
<line x1="229" y1="440.95" x2="232.4" y2="440.95" stroke="#111" stroke-width="0.75"/>
<circle cx="230.7" cy="434.35" r="1.75" fill="#000"/>
<line x1="235.8" y1="428.67" x2="235.8" y2="438.27" stroke="#111" stroke-width="0.75"/>
<line x1="234.1" y1="428.67" x2="237.5" y2="428.67" stroke="#111" stroke-width="0.75"/>
<line x1="234.1" y1="438.27" x2="237.5" y2="438.27" stroke="#111" stroke-width="0.75"/>
<circle cx="235.8" cy="433.47" r="1.75" fill="#000"/>
<line x1="255.27" y1="418.2" x2="255.27" y2="427.2" stroke="#111" stroke-width="0.75"/>
<line x1="253.57" y1="418.2" x2="256.97" y2="418.2" stroke="#111" stroke-width="0.75"/>
<line x1="253.57" y1="427.2" x2="256.97" y2="427.2" stroke="#111" stroke-width="0.75"/>
<circle cx="255.27" cy="422.7" r="1.75" fill="#000"/>
<line x1="274.73" y1="406.72" x2="274.73" y2="418.92" stroke="#111" stroke-width="0.75"/>
<line x1="273.03" y1="406.72" x2="276.43" y2="406.72" stroke="#111" stroke-width="0.75"/>
<line x1="273.03" y1="418.92" x2="276.43" y2="418.92" stroke="#111" stroke-width="0.75"/>
<circle cx="274.73" cy="412.82" r="1.75" fill="#000"/>
<line x1="294.2" y1="399.09" x2="294.2" y2="401.49" stroke="#111" stroke-width="0.75"/>
<line x1="292.5" y1="399.09" x2="295.9" y2="399.09" stroke="#111" stroke-width="0.75"/>
<line x1="292.5" y1="401.49" x2="295.9" y2="401.49" stroke="#111" stroke-width="0.75"/>
<circle cx="294.2" cy="400.29" r="1.75" fill="#000"/>
<line x1="313.67" y1="387.47" x2="313.67" y2="396.87" stroke="#111" stroke-width="0.75"/>
<line x1="311.97" y1="387.47" x2="315.37" y2="387.47" stroke="#111" stroke-width="0.75"/>
<line x1="311.97" y1="396.87" x2="315.37" y2="396.87" stroke="#111" stroke-width="0.75"/>
<circle cx="313.67" cy="392.17" r="1.75" fill="#000"/>
<line x1="333.13" y1="376.59" x2="333.13" y2="389.39" stroke="#111" stroke-width="0.75"/>
<line x1="331.43" y1="376.59" x2="334.83" y2="376.59" stroke="#111" stroke-width="0.75"/>
<line x1="331.43" y1="389.39" x2="334.83" y2="389.39" stroke="#111" stroke-width="0.75"/>
<circle cx="333.13" cy="382.99" r="1.75" fill="#000"/>
<line x1="352.6" y1="366.87" x2="352.6" y2="376.87" stroke="#111" stroke-width="0.75"/>
<line x1="350.9" y1="366.87" x2="354.3" y2="366.87" stroke="#111" stroke-width="0.75"/>
<line x1="350.9" y1="376.87" x2="354.3" y2="376.87" stroke="#111" stroke-width="0.75"/>
<circle cx="352.6" cy="371.87" r="1.75" fill="#000"/>
<line x1="223.52" y1="440.29" x2="352.6" y2="368.37" stroke="#f82430" stroke-width="1.2"/>
<text x="240.5" y="368.85" font-size="7.3" text-anchor="start" font-weight="bold" font-family='"Liberation Serif", serif' fill="#3a9be6" stroke="#3a9be6" stroke-width="0.22" textLength="61.7" lengthAdjust="spacingAndGlyphs">y=0.1288lgx+0.3627</text>
<text x="240.5" y="378.65" font-size="7.3" font-weight="bold" font-family='"Liberation Serif", serif' fill="#3a9be6" stroke="#3a9be6" stroke-width="0.22" textLength="25.8" lengthAdjust="spacingAndGlyphs">r<tspan font-size="5" dy="-2.4">2</tspan><tspan dy="2.4">=0.995</tspan></text>
<rect x="397" y="345.3" width="144.5" height="106.7" fill="none" stroke="#1b1b1b" stroke-width="1.3"/>
<line x1="394.8" y1="452" x2="397" y2="452" stroke="#1b1b1b" stroke-width="1.1"/>
<text x="393.4" y="454.23" font-size="6.63" text-anchor="end" font-weight="bold" font-family='"Liberation Serif", serif' fill="#111" stroke="#111" stroke-width="0.22" textLength="7.75" lengthAdjust="spacingAndGlyphs">0.0</text>
<line x1="394.8" y1="425.32" x2="397" y2="425.32" stroke="#1b1b1b" stroke-width="1.1"/>
<text x="393.4" y="427.56" font-size="6.63" text-anchor="end" font-weight="bold" font-family='"Liberation Serif", serif' fill="#111" stroke="#111" stroke-width="0.22" textLength="7.75" lengthAdjust="spacingAndGlyphs">0.2</text>
<line x1="394.8" y1="398.65" x2="397" y2="398.65" stroke="#1b1b1b" stroke-width="1.1"/>
<text x="393.4" y="400.88" font-size="6.63" text-anchor="end" font-weight="bold" font-family='"Liberation Serif", serif' fill="#111" stroke="#111" stroke-width="0.22" textLength="7.75" lengthAdjust="spacingAndGlyphs">0.4</text>
<line x1="394.8" y1="371.98" x2="397" y2="371.98" stroke="#1b1b1b" stroke-width="1.1"/>
<text x="393.4" y="374.21" font-size="6.63" text-anchor="end" font-weight="bold" font-family='"Liberation Serif", serif' fill="#111" stroke="#111" stroke-width="0.22" textLength="7.75" lengthAdjust="spacingAndGlyphs">0.6</text>
<line x1="394.8" y1="345.3" x2="397" y2="345.3" stroke="#1b1b1b" stroke-width="1.1"/>
<text x="393.4" y="347.53" font-size="6.63" text-anchor="end" font-weight="bold" font-family='"Liberation Serif", serif' fill="#111" stroke="#111" stroke-width="0.22" textLength="7.75" lengthAdjust="spacingAndGlyphs">0.8</text>
<line x1="401.91" y1="452" x2="401.91" y2="453.3" stroke="#1b1b1b" stroke-width="0.8"/>
<line x1="405.79" y1="452" x2="405.79" y2="453.3" stroke="#1b1b1b" stroke-width="0.8"/>
<line x1="408.96" y1="452" x2="408.96" y2="453.3" stroke="#1b1b1b" stroke-width="0.8"/>
<line x1="411.63" y1="452" x2="411.63" y2="453.3" stroke="#1b1b1b" stroke-width="0.8"/>
<line x1="413.95" y1="452" x2="413.95" y2="453.3" stroke="#1b1b1b" stroke-width="0.8"/>
<line x1="416" y1="452" x2="416" y2="453.3" stroke="#1b1b1b" stroke-width="0.8"/>
<line x1="417.83" y1="452" x2="417.83" y2="454.2" stroke="#1b1b1b" stroke-width="1.1"/>
<text x="417.83" y="461.13" font-size="6.63" text-anchor="middle" font-weight="bold" font-family='"Liberation Serif", serif' fill="#111" stroke="#111" stroke-width="0.22" textLength="10.85" lengthAdjust="spacingAndGlyphs">0.01</text>
<line x1="429.87" y1="452" x2="429.87" y2="453.3" stroke="#1b1b1b" stroke-width="0.8"/>
<line x1="436.91" y1="452" x2="436.91" y2="453.3" stroke="#1b1b1b" stroke-width="0.8"/>
<line x1="441.91" y1="452" x2="441.91" y2="453.3" stroke="#1b1b1b" stroke-width="0.8"/>
<line x1="445.79" y1="452" x2="445.79" y2="453.3" stroke="#1b1b1b" stroke-width="0.8"/>
<line x1="448.96" y1="452" x2="448.96" y2="453.3" stroke="#1b1b1b" stroke-width="0.8"/>
<line x1="451.63" y1="452" x2="451.63" y2="453.3" stroke="#1b1b1b" stroke-width="0.8"/>
<line x1="453.95" y1="452" x2="453.95" y2="453.3" stroke="#1b1b1b" stroke-width="0.8"/>
<line x1="456" y1="452" x2="456" y2="453.3" stroke="#1b1b1b" stroke-width="0.8"/>
<line x1="457.83" y1="452" x2="457.83" y2="454.2" stroke="#1b1b1b" stroke-width="1.1"/>
<text x="457.83" y="461.13" font-size="6.63" text-anchor="middle" font-weight="bold" font-family='"Liberation Serif", serif' fill="#111" stroke="#111" stroke-width="0.22" textLength="7.75" lengthAdjust="spacingAndGlyphs">0.1</text>
<line x1="469.87" y1="452" x2="469.87" y2="453.3" stroke="#1b1b1b" stroke-width="0.8"/>
<line x1="476.91" y1="452" x2="476.91" y2="453.3" stroke="#1b1b1b" stroke-width="0.8"/>
<line x1="481.91" y1="452" x2="481.91" y2="453.3" stroke="#1b1b1b" stroke-width="0.8"/>
<line x1="485.79" y1="452" x2="485.79" y2="453.3" stroke="#1b1b1b" stroke-width="0.8"/>
<line x1="488.96" y1="452" x2="488.96" y2="453.3" stroke="#1b1b1b" stroke-width="0.8"/>
<line x1="491.63" y1="452" x2="491.63" y2="453.3" stroke="#1b1b1b" stroke-width="0.8"/>
<line x1="493.95" y1="452" x2="493.95" y2="453.3" stroke="#1b1b1b" stroke-width="0.8"/>
<line x1="496" y1="452" x2="496" y2="453.3" stroke="#1b1b1b" stroke-width="0.8"/>
<line x1="497.83" y1="452" x2="497.83" y2="454.2" stroke="#1b1b1b" stroke-width="1.1"/>
<text x="497.83" y="461.13" font-size="6.63" text-anchor="middle" font-weight="bold" font-family='"Liberation Serif", serif' fill="#111" stroke="#111" stroke-width="0.22" textLength="3.1" lengthAdjust="spacingAndGlyphs">1</text>
<line x1="509.87" y1="452" x2="509.87" y2="453.3" stroke="#1b1b1b" stroke-width="0.8"/>
<line x1="516.91" y1="452" x2="516.91" y2="453.3" stroke="#1b1b1b" stroke-width="0.8"/>
<line x1="521.91" y1="452" x2="521.91" y2="453.3" stroke="#1b1b1b" stroke-width="0.8"/>
<line x1="525.79" y1="452" x2="525.79" y2="453.3" stroke="#1b1b1b" stroke-width="0.8"/>
<line x1="528.96" y1="452" x2="528.96" y2="453.3" stroke="#1b1b1b" stroke-width="0.8"/>
<line x1="531.63" y1="452" x2="531.63" y2="453.3" stroke="#1b1b1b" stroke-width="0.8"/>
<line x1="533.95" y1="452" x2="533.95" y2="453.3" stroke="#1b1b1b" stroke-width="0.8"/>
<line x1="536" y1="452" x2="536" y2="453.3" stroke="#1b1b1b" stroke-width="0.8"/>
<line x1="537.83" y1="452" x2="537.83" y2="454.2" stroke="#1b1b1b" stroke-width="1.1"/>
<text x="537.83" y="461.13" font-size="6.63" text-anchor="middle" font-weight="bold" font-family='"Liberation Serif", serif' fill="#111" stroke="#111" stroke-width="0.22" textLength="6.2" lengthAdjust="spacingAndGlyphs">10</text>
<text x="380" y="400.55" font-size="7.8" text-anchor="middle" font-weight="bold" font-family='"Liberation Serif", serif' fill="#111" stroke="#111" stroke-width="0.22" transform="rotate(-90 380 397.9)" textLength="28.6" lengthAdjust="spacingAndGlyphs">(F<tspan font-size="5.77" dy="1.72">0</tspan><tspan dy="-1.72">-F) / F</tspan><tspan font-size="5.77" dy="1.72">0</tspan></text>
<text x="469.4" y="468.28" font-size="7.3" text-anchor="middle" font-weight="bold" font-family='"Liberation Serif", serif' fill="#111" stroke="#111" stroke-width="0.22" textLength="32" lengthAdjust="spacingAndGlyphs">C<tspan font-size="4.82" dy="1.9">AFB1</tspan><tspan dy="-1.9"> / μM</tspan></text>
<line x1="405.79" y1="438.46" x2="405.79" y2="448.46" stroke="#111" stroke-width="0.75"/>
<line x1="404.09" y1="438.46" x2="407.49" y2="438.46" stroke="#111" stroke-width="0.75"/>
<line x1="404.09" y1="448.46" x2="407.49" y2="448.46" stroke="#111" stroke-width="0.75"/>
<circle cx="405.79" cy="443.46" r="1.75" fill="#000"/>
<line x1="412.83" y1="433.16" x2="412.83" y2="443.36" stroke="#111" stroke-width="0.75"/>
<line x1="411.13" y1="433.16" x2="414.53" y2="433.16" stroke="#111" stroke-width="0.75"/>
<line x1="411.13" y1="443.36" x2="414.53" y2="443.36" stroke="#111" stroke-width="0.75"/>
<circle cx="412.83" cy="438.26" r="1.75" fill="#000"/>
<line x1="417.83" y1="426.63" x2="417.83" y2="437.63" stroke="#111" stroke-width="0.75"/>
<line x1="416.13" y1="426.63" x2="419.53" y2="426.63" stroke="#111" stroke-width="0.75"/>
<line x1="416.13" y1="437.63" x2="419.53" y2="437.63" stroke="#111" stroke-width="0.75"/>
<circle cx="417.83" cy="432.13" r="1.75" fill="#000"/>
<line x1="436.91" y1="424.12" x2="436.91" y2="426.52" stroke="#111" stroke-width="0.75"/>
<line x1="435.21" y1="424.12" x2="438.61" y2="424.12" stroke="#111" stroke-width="0.75"/>
<line x1="435.21" y1="426.52" x2="438.61" y2="426.52" stroke="#111" stroke-width="0.75"/>
<circle cx="436.91" cy="425.32" r="1.75" fill="#000"/>
<line x1="456" y1="409.95" x2="456" y2="419.35" stroke="#111" stroke-width="0.75"/>
<line x1="454.3" y1="409.95" x2="457.7" y2="409.95" stroke="#111" stroke-width="0.75"/>
<line x1="454.3" y1="419.35" x2="457.7" y2="419.35" stroke="#111" stroke-width="0.75"/>
<circle cx="456" cy="414.65" r="1.75" fill="#000"/>
<line x1="475.08" y1="402.49" x2="475.08" y2="405.49" stroke="#111" stroke-width="0.75"/>
<line x1="473.38" y1="402.49" x2="476.78" y2="402.49" stroke="#111" stroke-width="0.75"/>
<line x1="473.38" y1="405.49" x2="476.78" y2="405.49" stroke="#111" stroke-width="0.75"/>
<circle cx="475.08" cy="403.99" r="1.75" fill="#000"/>
<line x1="494.17" y1="394.48" x2="494.17" y2="397.48" stroke="#111" stroke-width="0.75"/>
<line x1="492.47" y1="394.48" x2="495.87" y2="394.48" stroke="#111" stroke-width="0.75"/>
<line x1="492.47" y1="397.48" x2="495.87" y2="397.48" stroke="#111" stroke-width="0.75"/>
<circle cx="494.17" cy="395.98" r="1.75" fill="#000"/>
<line x1="513.25" y1="385.48" x2="513.25" y2="394.48" stroke="#111" stroke-width="0.75"/>
<line x1="511.55" y1="385.48" x2="514.95" y2="385.48" stroke="#111" stroke-width="0.75"/>
<line x1="511.55" y1="394.48" x2="514.95" y2="394.48" stroke="#111" stroke-width="0.75"/>
<circle cx="513.25" cy="389.98" r="1.75" fill="#000"/>
<line x1="532.34" y1="371.64" x2="532.34" y2="381.64" stroke="#111" stroke-width="0.75"/>
<line x1="530.64" y1="371.64" x2="534.04" y2="371.64" stroke="#111" stroke-width="0.75"/>
<line x1="530.64" y1="381.64" x2="534.04" y2="381.64" stroke="#111" stroke-width="0.75"/>
<circle cx="532.34" cy="376.64" r="1.75" fill="#000"/>
<line x1="405.79" y1="440.94" x2="532.34" y2="375.92" stroke="#f82430" stroke-width="1.2"/>
<text x="423" y="370.65" font-size="7.3" text-anchor="start" font-weight="bold" font-family='"Liberation Serif", serif' fill="#3a9be6" stroke="#3a9be6" stroke-width="0.22" textLength="64.4" lengthAdjust="spacingAndGlyphs">y=0.1541 lgx+0. 4375</text>
<text x="423" y="380.05" font-size="7.3" font-weight="bold" font-family='"Liberation Serif", serif' fill="#3a9be6" stroke="#3a9be6" stroke-width="0.22" textLength="26.2" lengthAdjust="spacingAndGlyphs">r<tspan font-size="5" dy="-2.4">2</tspan><tspan dy="2.4">=0.993</tspan></text></svg></body></html>
